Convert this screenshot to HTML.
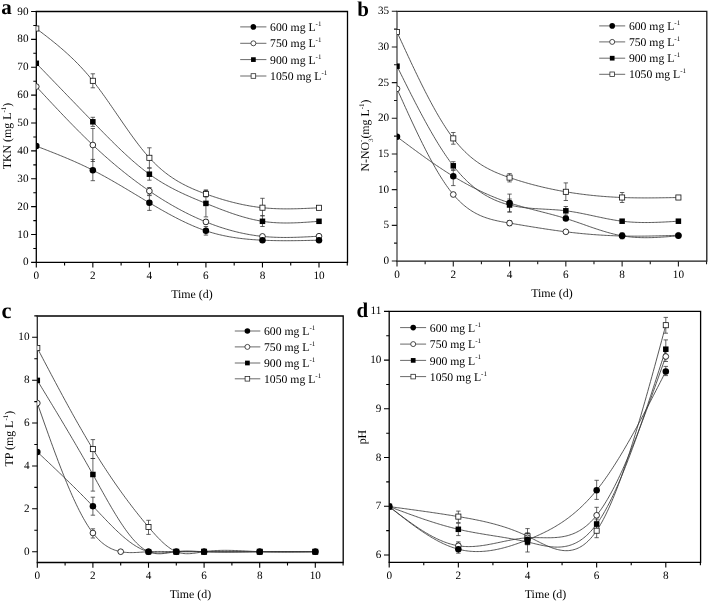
<!DOCTYPE html>
<html><head><meta charset="utf-8"><title>Figure</title>
<style>
html,body{margin:0;padding:0;background:#fff;}
body{width:709px;height:602px;overflow:hidden;}
svg{display:block;}
svg text{font-family:"Liberation Serif","Times New Roman",serif;fill:#000;text-rendering:geometricPrecision;}
</style></head>
<body>
<svg width="709" height="602" viewBox="0 0 709 602">
<rect width="709" height="602" fill="#fff"/>
<path d="M35.65 11.5H348.15M347.5 11.5V262.4M35.65 262.4H348.15" stroke="#000" stroke-width="1.3" fill="none"/>
<path d="M36.3 11.5V262.4" stroke="#000" stroke-width="1.3" fill="none"/>
<path d="M31.1 262.4H36.3M31.1 234.52H36.3M31.1 206.64H36.3M31.1 178.77H36.3M31.1 150.89H36.3M31.1 123.01H36.3M31.1 95.13H36.3M31.1 67.26H36.3M31.1 39.38H36.3M31.1 11.5H36.3M33.3 248.46H36.3M33.3 220.58H36.3M33.3 192.71H36.3M33.3 164.83H36.3M33.3 136.95H36.3M33.3 109.07H36.3M33.3 81.19H36.3M33.3 53.32H36.3M33.3 25.44H36.3M36.3 262.4V267.6M92.84 262.4V267.6M149.38 262.4V267.6M205.92 262.4V267.6M262.46 262.4V267.6M319 262.4V267.6M64.57 262.4V265.4M121.11 262.4V265.4M177.65 262.4V265.4M234.19 262.4V265.4M290.73 262.4V265.4M347.27 262.4V265.4" stroke="#000" stroke-width="1.1" fill="none"/>
<text x="28.5" y="265.4" text-anchor="end" font-size="11.2">0</text>
<text x="28.5" y="237.52" text-anchor="end" font-size="11.2">10</text>
<text x="28.5" y="209.64" text-anchor="end" font-size="11.2">20</text>
<text x="28.5" y="181.77" text-anchor="end" font-size="11.2">30</text>
<text x="28.5" y="153.89" text-anchor="end" font-size="11.2">40</text>
<text x="28.5" y="126.01" text-anchor="end" font-size="11.2">50</text>
<text x="28.5" y="98.13" text-anchor="end" font-size="11.2">60</text>
<text x="28.5" y="70.26" text-anchor="end" font-size="11.2">70</text>
<text x="28.5" y="42.38" text-anchor="end" font-size="11.2">80</text>
<text x="28.5" y="14.5" text-anchor="end" font-size="11.2">90</text>
<text x="36.3" y="279" text-anchor="middle" font-size="11.2">0</text>
<text x="92.84" y="279" text-anchor="middle" font-size="11.2">2</text>
<text x="149.38" y="279" text-anchor="middle" font-size="11.2">4</text>
<text x="205.92" y="279" text-anchor="middle" font-size="11.2">6</text>
<text x="262.46" y="279" text-anchor="middle" font-size="11.2">8</text>
<text x="319" y="279" text-anchor="middle" font-size="11.2">10</text>
<clipPath id="ca"><rect x="36.3" y="-8.5" width="316.2" height="270.9"/></clipPath>
<g clip-path="url(#ca)">
<path d="M36.3 28.5 L37.72 29.58 L39.14 30.67 L40.56 31.75 L41.98 32.84 L43.4 33.94 L44.82 35.03 L46.24 36.13 L47.66 37.24 L49.09 38.36 L50.51 39.48 L51.93 40.61 L53.35 41.75 L54.77 42.9 L56.19 44.07 L57.61 45.24 L59.03 46.43 L60.45 47.63 L61.87 48.85 L63.29 50.08 L64.71 51.33 L66.13 52.6 L67.55 53.89 L68.97 55.19 L70.39 56.51 L71.82 57.86 L73.24 59.23 L74.66 60.62 L76.08 62.03 L77.5 63.47 L78.92 64.93 L80.34 66.42 L81.76 67.94 L83.18 69.49 L84.6 71.06 L86.02 72.66 L87.44 74.3 L88.86 75.96 L90.28 77.66 L91.7 79.39 L93.12 81.16 L94.54 82.95 L95.97 84.79 L97.39 86.65 L98.81 88.54 L100.23 90.46 L101.65 92.4 L103.07 94.36 L104.49 96.34 L105.91 98.34 L107.33 100.36 L108.75 102.39 L110.17 104.44 L111.59 106.49 L113.01 108.55 L114.43 110.62 L115.85 112.7 L117.27 114.77 L118.69 116.84 L120.12 118.92 L121.54 120.99 L122.96 123.05 L124.38 125.1 L125.8 127.15 L127.22 129.18 L128.64 131.2 L130.06 133.2 L131.48 135.19 L132.9 137.15 L134.32 139.09 L135.74 141.01 L137.16 142.9 L138.58 144.77 L140 146.6 L141.42 148.4 L142.85 150.17 L144.27 151.9 L145.69 153.59 L147.11 155.25 L148.53 156.86 L149.95 158.42 L151.37 159.94 L152.79 161.42 L154.21 162.85 L155.63 164.24 L157.05 165.59 L158.47 166.9 L159.89 168.17 L161.31 169.4 L162.73 170.6 L164.15 171.75 L165.57 172.88 L167 173.96 L168.42 175.02 L169.84 176.04 L171.26 177.03 L172.68 177.99 L174.1 178.92 L175.52 179.82 L176.94 180.69 L178.36 181.54 L179.78 182.36 L181.2 183.15 L182.62 183.92 L184.04 184.67 L185.46 185.4 L186.88 186.1 L188.3 186.79 L189.73 187.45 L191.15 188.1 L192.57 188.73 L193.99 189.35 L195.41 189.95 L196.83 190.53 L198.25 191.1 L199.67 191.66 L201.09 192.21 L202.51 192.75 L203.93 193.27 L205.35 193.79 L206.77 194.31 L208.19 194.81 L209.61 195.31 L211.03 195.8 L212.45 196.28 L213.88 196.76 L215.3 197.22 L216.72 197.68 L218.14 198.13 L219.56 198.58 L220.98 199.01 L222.4 199.44 L223.82 199.86 L225.24 200.27 L226.66 200.67 L228.08 201.06 L229.5 201.45 L230.92 201.83 L232.34 202.19 L233.76 202.55 L235.18 202.9 L236.61 203.24 L238.03 203.57 L239.45 203.89 L240.87 204.2 L242.29 204.5 L243.71 204.8 L245.13 205.08 L246.55 205.35 L247.97 205.61 L249.39 205.87 L250.81 206.11 L252.23 206.34 L253.65 206.56 L255.07 206.77 L256.49 206.97 L257.91 207.16 L259.33 207.34 L260.76 207.51 L262.18 207.67 L263.6 207.82 L265.02 207.95 L266.44 208.08 L267.86 208.19 L269.28 208.3 L270.7 208.39 L272.12 208.48 L273.54 208.55 L274.96 208.62 L276.38 208.68 L277.8 208.73 L279.22 208.77 L280.64 208.8 L282.06 208.83 L283.48 208.85 L284.91 208.86 L286.33 208.87 L287.75 208.87 L289.17 208.86 L290.59 208.85 L292.01 208.83 L293.43 208.81 L294.85 208.78 L296.27 208.75 L297.69 208.71 L299.11 208.67 L300.53 208.62 L301.95 208.57 L303.37 208.52 L304.79 208.46 L306.21 208.41 L307.64 208.34 L309.06 208.28 L310.48 208.22 L311.9 208.15 L313.32 208.08 L314.74 208.01 L316.16 207.94 L317.58 207.87 L319 207.8" fill="none" stroke="#3a3a3a" stroke-width="0.85"/>
<path d="M36.3 86.6 L37.72 88.13 L39.14 89.66 L40.56 91.19 L41.98 92.72 L43.4 94.24 L44.82 95.77 L46.24 97.29 L47.66 98.82 L49.09 100.34 L50.51 101.86 L51.93 103.37 L53.35 104.89 L54.77 106.4 L56.19 107.91 L57.61 109.41 L59.03 110.91 L60.45 112.41 L61.87 113.91 L63.29 115.39 L64.71 116.88 L66.13 118.36 L67.55 119.83 L68.97 121.3 L70.39 122.77 L71.82 124.23 L73.24 125.68 L74.66 127.13 L76.08 128.57 L77.5 130 L78.92 131.43 L80.34 132.85 L81.76 134.26 L83.18 135.67 L84.6 137.06 L86.02 138.45 L87.44 139.83 L88.86 141.2 L90.28 142.57 L91.7 143.92 L93.12 145.27 L94.54 146.6 L95.97 147.93 L97.39 149.25 L98.81 150.56 L100.23 151.85 L101.65 153.14 L103.07 154.42 L104.49 155.69 L105.91 156.95 L107.33 158.21 L108.75 159.45 L110.17 160.68 L111.59 161.9 L113.01 163.12 L114.43 164.32 L115.85 165.52 L117.27 166.7 L118.69 167.88 L120.12 169.05 L121.54 170.2 L122.96 171.35 L124.38 172.49 L125.8 173.62 L127.22 174.74 L128.64 175.85 L130.06 176.95 L131.48 178.04 L132.9 179.13 L134.32 180.2 L135.74 181.26 L137.16 182.32 L138.58 183.36 L140 184.4 L141.42 185.43 L142.85 186.44 L144.27 187.45 L145.69 188.45 L147.11 189.44 L148.53 190.42 L149.95 191.39 L151.37 192.35 L152.79 193.3 L154.21 194.24 L155.63 195.17 L157.05 196.1 L158.47 197.01 L159.89 197.91 L161.31 198.81 L162.73 199.69 L164.15 200.57 L165.57 201.44 L167 202.29 L168.42 203.14 L169.84 203.97 L171.26 204.8 L172.68 205.62 L174.1 206.43 L175.52 207.22 L176.94 208.01 L178.36 208.79 L179.78 209.56 L181.2 210.32 L182.62 211.06 L184.04 211.8 L185.46 212.53 L186.88 213.25 L188.3 213.96 L189.73 214.66 L191.15 215.34 L192.57 216.02 L193.99 216.69 L195.41 217.35 L196.83 218 L198.25 218.63 L199.67 219.26 L201.09 219.88 L202.51 220.49 L203.93 221.08 L205.35 221.67 L206.77 222.24 L208.19 222.81 L209.61 223.36 L211.03 223.91 L212.45 224.44 L213.88 224.97 L215.3 225.48 L216.72 225.98 L218.14 226.48 L219.56 226.96 L220.98 227.43 L222.4 227.89 L223.82 228.34 L225.24 228.78 L226.66 229.21 L228.08 229.62 L229.5 230.03 L230.92 230.43 L232.34 230.81 L233.76 231.19 L235.18 231.55 L236.61 231.9 L238.03 232.25 L239.45 232.58 L240.87 232.9 L242.29 233.21 L243.71 233.5 L245.13 233.79 L246.55 234.07 L247.97 234.33 L249.39 234.59 L250.81 234.83 L252.23 235.06 L253.65 235.28 L255.07 235.49 L256.49 235.69 L257.91 235.88 L259.33 236.05 L260.76 236.22 L262.18 236.37 L263.6 236.51 L265.02 236.64 L266.44 236.76 L267.86 236.87 L269.28 236.97 L270.7 237.06 L272.12 237.14 L273.54 237.21 L274.96 237.27 L276.38 237.32 L277.8 237.37 L279.22 237.4 L280.64 237.43 L282.06 237.45 L283.48 237.46 L284.91 237.47 L286.33 237.47 L287.75 237.46 L289.17 237.44 L290.59 237.42 L292.01 237.4 L293.43 237.37 L294.85 237.33 L296.27 237.29 L297.69 237.24 L299.11 237.19 L300.53 237.14 L301.95 237.08 L303.37 237.02 L304.79 236.95 L306.21 236.89 L307.64 236.82 L309.06 236.75 L310.48 236.67 L311.9 236.59 L313.32 236.52 L314.74 236.44 L316.16 236.36 L317.58 236.28 L319 236.2" fill="none" stroke="#3a3a3a" stroke-width="0.85"/>
<path d="M36.3 63.3 L37.72 64.77 L39.14 66.24 L40.56 67.72 L41.98 69.19 L43.4 70.66 L44.82 72.13 L46.24 73.61 L47.66 75.08 L49.09 76.55 L50.51 78.02 L51.93 79.49 L53.35 80.97 L54.77 82.44 L56.19 83.91 L57.61 85.38 L59.03 86.85 L60.45 88.32 L61.87 89.79 L63.29 91.26 L64.71 92.73 L66.13 94.2 L67.55 95.68 L68.97 97.15 L70.39 98.61 L71.82 100.08 L73.24 101.55 L74.66 103.02 L76.08 104.49 L77.5 105.96 L78.92 107.43 L80.34 108.9 L81.76 110.36 L83.18 111.83 L84.6 113.3 L86.02 114.76 L87.44 116.23 L88.86 117.7 L90.28 119.16 L91.7 120.63 L93.12 122.09 L94.54 123.56 L95.97 125.02 L97.39 126.48 L98.81 127.94 L100.23 129.4 L101.65 130.85 L103.07 132.3 L104.49 133.75 L105.91 135.19 L107.33 136.63 L108.75 138.06 L110.17 139.48 L111.59 140.9 L113.01 142.31 L114.43 143.71 L115.85 145.1 L117.27 146.49 L118.69 147.86 L120.12 149.23 L121.54 150.58 L122.96 151.92 L124.38 153.25 L125.8 154.57 L127.22 155.88 L128.64 157.17 L130.06 158.45 L131.48 159.72 L132.9 160.97 L134.32 162.2 L135.74 163.42 L137.16 164.62 L138.58 165.81 L140 166.97 L141.42 168.12 L142.85 169.25 L144.27 170.36 L145.69 171.46 L147.11 172.53 L148.53 173.58 L149.95 174.61 L151.37 175.62 L152.79 176.61 L154.21 177.57 L155.63 178.52 L157.05 179.45 L158.47 180.36 L159.89 181.25 L161.31 182.12 L162.73 182.98 L164.15 183.82 L165.57 184.64 L167 185.45 L168.42 186.24 L169.84 187.02 L171.26 187.78 L172.68 188.53 L174.1 189.26 L175.52 189.99 L176.94 190.7 L178.36 191.4 L179.78 192.09 L181.2 192.77 L182.62 193.43 L184.04 194.09 L185.46 194.74 L186.88 195.38 L188.3 196.01 L189.73 196.64 L191.15 197.26 L192.57 197.87 L193.99 198.48 L195.41 199.08 L196.83 199.67 L198.25 200.26 L199.67 200.85 L201.09 201.43 L202.51 202.01 L203.93 202.59 L205.35 203.17 L206.77 203.75 L208.19 204.32 L209.61 204.89 L211.03 205.46 L212.45 206.03 L213.88 206.59 L215.3 207.15 L216.72 207.71 L218.14 208.26 L219.56 208.81 L220.98 209.36 L222.4 209.9 L223.82 210.43 L225.24 210.96 L226.66 211.48 L228.08 211.99 L229.5 212.5 L230.92 213 L232.34 213.49 L233.76 213.97 L235.18 214.44 L236.61 214.91 L238.03 215.36 L239.45 215.81 L240.87 216.24 L242.29 216.67 L243.71 217.08 L245.13 217.48 L246.55 217.87 L247.97 218.25 L249.39 218.61 L250.81 218.96 L252.23 219.3 L253.65 219.62 L255.07 219.93 L256.49 220.23 L257.91 220.51 L259.33 220.77 L260.76 221.02 L262.18 221.26 L263.6 221.47 L265.02 221.67 L266.44 221.86 L267.86 222.02 L269.28 222.18 L270.7 222.32 L272.12 222.44 L273.54 222.55 L274.96 222.65 L276.38 222.73 L277.8 222.8 L279.22 222.86 L280.64 222.91 L282.06 222.95 L283.48 222.97 L284.91 222.99 L286.33 222.99 L287.75 222.99 L289.17 222.98 L290.59 222.95 L292.01 222.92 L293.43 222.88 L294.85 222.84 L296.27 222.78 L297.69 222.72 L299.11 222.66 L300.53 222.58 L301.95 222.51 L303.37 222.42 L304.79 222.34 L306.21 222.24 L307.64 222.15 L309.06 222.05 L310.48 221.95 L311.9 221.84 L313.32 221.74 L314.74 221.63 L316.16 221.52 L317.58 221.41 L319 221.3" fill="none" stroke="#3a3a3a" stroke-width="0.85"/>
<path d="M36.3 146.1 L37.72 146.65 L39.14 147.2 L40.56 147.74 L41.98 148.29 L43.4 148.84 L44.82 149.39 L46.24 149.95 L47.66 150.5 L49.09 151.06 L50.51 151.61 L51.93 152.17 L53.35 152.74 L54.77 153.3 L56.19 153.87 L57.61 154.44 L59.03 155.01 L60.45 155.59 L61.87 156.17 L63.29 156.76 L64.71 157.35 L66.13 157.94 L67.55 158.54 L68.97 159.14 L70.39 159.75 L71.82 160.36 L73.24 160.98 L74.66 161.61 L76.08 162.24 L77.5 162.88 L78.92 163.52 L80.34 164.17 L81.76 164.82 L83.18 165.49 L84.6 166.16 L86.02 166.84 L87.44 167.52 L88.86 168.21 L90.28 168.92 L91.7 169.63 L93.12 170.34 L94.54 171.07 L95.97 171.81 L97.39 172.55 L98.81 173.3 L100.23 174.06 L101.65 174.83 L103.07 175.6 L104.49 176.38 L105.91 177.16 L107.33 177.96 L108.75 178.75 L110.17 179.56 L111.59 180.37 L113.01 181.18 L114.43 182 L115.85 182.82 L117.27 183.65 L118.69 184.48 L120.12 185.31 L121.54 186.15 L122.96 186.99 L124.38 187.83 L125.8 188.68 L127.22 189.52 L128.64 190.37 L130.06 191.22 L131.48 192.08 L132.9 192.93 L134.32 193.78 L135.74 194.64 L137.16 195.49 L138.58 196.34 L140 197.2 L141.42 198.05 L142.85 198.9 L144.27 199.75 L145.69 200.6 L147.11 201.45 L148.53 202.29 L149.95 203.14 L151.37 203.98 L152.79 204.81 L154.21 205.65 L155.63 206.48 L157.05 207.3 L158.47 208.12 L159.89 208.94 L161.31 209.75 L162.73 210.56 L164.15 211.36 L165.57 212.15 L167 212.94 L168.42 213.72 L169.84 214.5 L171.26 215.26 L172.68 216.02 L174.1 216.77 L175.52 217.52 L176.94 218.25 L178.36 218.98 L179.78 219.69 L181.2 220.4 L182.62 221.09 L184.04 221.78 L185.46 222.46 L186.88 223.12 L188.3 223.77 L189.73 224.41 L191.15 225.04 L192.57 225.66 L193.99 226.27 L195.41 226.86 L196.83 227.44 L198.25 228 L199.67 228.55 L201.09 229.09 L202.51 229.61 L203.93 230.12 L205.35 230.61 L206.77 231.08 L208.19 231.54 L209.61 231.99 L211.03 232.42 L212.45 232.84 L213.88 233.24 L215.3 233.62 L216.72 234 L218.14 234.36 L219.56 234.7 L220.98 235.03 L222.4 235.35 L223.82 235.66 L225.24 235.96 L226.66 236.24 L228.08 236.51 L229.5 236.77 L230.92 237.02 L232.34 237.26 L233.76 237.48 L235.18 237.7 L236.61 237.9 L238.03 238.1 L239.45 238.29 L240.87 238.47 L242.29 238.63 L243.71 238.79 L245.13 238.94 L246.55 239.09 L247.97 239.22 L249.39 239.35 L250.81 239.47 L252.23 239.58 L253.65 239.68 L255.07 239.78 L256.49 239.88 L257.91 239.96 L259.33 240.04 L260.76 240.12 L262.18 240.19 L263.6 240.25 L265.02 240.31 L266.44 240.37 L267.86 240.42 L269.28 240.46 L270.7 240.5 L272.12 240.54 L273.54 240.57 L274.96 240.6 L276.38 240.63 L277.8 240.65 L279.22 240.67 L280.64 240.68 L282.06 240.69 L283.48 240.7 L284.91 240.7 L286.33 240.71 L287.75 240.7 L289.17 240.7 L290.59 240.69 L292.01 240.68 L293.43 240.67 L294.85 240.66 L296.27 240.64 L297.69 240.62 L299.11 240.6 L300.53 240.58 L301.95 240.56 L303.37 240.54 L304.79 240.51 L306.21 240.48 L307.64 240.45 L309.06 240.42 L310.48 240.39 L311.9 240.36 L313.32 240.33 L314.74 240.3 L316.16 240.27 L317.58 240.23 L319 240.2" fill="none" stroke="#3a3a3a" stroke-width="0.85"/>
<path d="M92.84 73.8V87.8M90.64 73.8H95.04M90.64 87.8H95.04" stroke="#333" stroke-width="0.75" fill="none"/>
<path d="M149.38 147.8V167.8M147.18 147.8H151.58M147.18 167.8H151.58" stroke="#333" stroke-width="0.75" fill="none"/>
<path d="M205.92 190.5V197M203.72 190.5H208.12M203.72 197H208.12" stroke="#333" stroke-width="0.75" fill="none"/>
<path d="M262.46 198.3V215.7M260.26 198.3H264.66M260.26 215.7H264.66" stroke="#333" stroke-width="0.75" fill="none"/>
<path d="M92.84 128.5V161.5M90.64 128.5H95.04M90.64 161.5H95.04" stroke="#333" stroke-width="0.75" fill="none"/>
<path d="M149.38 187.5V195M147.18 187.5H151.58M147.18 195H151.58" stroke="#333" stroke-width="0.75" fill="none"/>
<path d="M205.92 219.4V224.4M203.72 219.4H208.12M203.72 224.4H208.12" stroke="#333" stroke-width="0.75" fill="none"/>
<path d="M92.84 117.3V126.4M90.64 117.3H95.04M90.64 126.4H95.04" stroke="#333" stroke-width="0.75" fill="none"/>
<path d="M149.38 168.2V180.2M147.18 168.2H151.58M147.18 180.2H151.58" stroke="#333" stroke-width="0.75" fill="none"/>
<path d="M205.92 189.9V216.9M203.72 189.9H208.12M203.72 216.9H208.12" stroke="#333" stroke-width="0.75" fill="none"/>
<path d="M262.46 215.8V226.5M260.26 215.8H264.66M260.26 226.5H264.66" stroke="#333" stroke-width="0.75" fill="none"/>
<path d="M92.84 159.4V180.7M90.64 159.4H95.04M90.64 180.7H95.04" stroke="#333" stroke-width="0.75" fill="none"/>
<path d="M149.38 195.6V210.4M147.18 195.6H151.58M147.18 210.4H151.58" stroke="#333" stroke-width="0.75" fill="none"/>
<path d="M205.92 226.5V235.1M203.72 226.5H208.12M203.72 235.1H208.12" stroke="#333" stroke-width="0.75" fill="none"/>
<path d="M262.46 239.2V241.2M260.26 239.2H264.66M260.26 241.2H264.66" stroke="#333" stroke-width="0.75" fill="none"/>
<rect x="33.75" y="25.95" width="5.1" height="5.1" fill="#fff" stroke="#111" stroke-width="0.8"/>
<rect x="90.29" y="78.25" width="5.1" height="5.1" fill="#fff" stroke="#111" stroke-width="0.8"/>
<rect x="146.83" y="155.25" width="5.1" height="5.1" fill="#fff" stroke="#111" stroke-width="0.8"/>
<rect x="203.37" y="191.45" width="5.1" height="5.1" fill="#fff" stroke="#111" stroke-width="0.8"/>
<rect x="259.91" y="205.15" width="5.1" height="5.1" fill="#fff" stroke="#111" stroke-width="0.8"/>
<rect x="316.45" y="205.25" width="5.1" height="5.1" fill="#fff" stroke="#111" stroke-width="0.8"/>
<circle cx="36.3" cy="86.6" r="2.85" fill="#fff" stroke="#111" stroke-width="0.85"/>
<circle cx="92.84" cy="145" r="2.85" fill="#fff" stroke="#111" stroke-width="0.85"/>
<circle cx="149.38" cy="191" r="2.85" fill="#fff" stroke="#111" stroke-width="0.85"/>
<circle cx="205.92" cy="221.9" r="2.85" fill="#fff" stroke="#111" stroke-width="0.85"/>
<circle cx="262.46" cy="236.4" r="2.85" fill="#fff" stroke="#111" stroke-width="0.85"/>
<circle cx="319" cy="236.2" r="2.85" fill="#fff" stroke="#111" stroke-width="0.85"/>
<rect x="33.55" y="60.55" width="5.5" height="5.5" fill="#000"/>
<rect x="90.09" y="119.05" width="5.5" height="5.5" fill="#000"/>
<rect x="146.63" y="171.45" width="5.5" height="5.5" fill="#000"/>
<rect x="203.17" y="200.65" width="5.5" height="5.5" fill="#000"/>
<rect x="259.71" y="218.55" width="5.5" height="5.5" fill="#000"/>
<rect x="316.25" y="218.55" width="5.5" height="5.5" fill="#000"/>
<circle cx="36.3" cy="146.1" r="3.25" fill="#000"/>
<circle cx="92.84" cy="170.2" r="3.25" fill="#000"/>
<circle cx="149.38" cy="202.8" r="3.25" fill="#000"/>
<circle cx="205.92" cy="230.8" r="3.25" fill="#000"/>
<circle cx="262.46" cy="240.2" r="3.25" fill="#000"/>
<circle cx="319" cy="240.2" r="3.25" fill="#000"/>
</g>
<path d="M240.2 26.9H266.4" stroke="#444" stroke-width="0.8"/>
<circle cx="253.4" cy="26.9" r="2.8" fill="#000"/>
<text x="270.1" y="31" font-size="11.7">600 mg L<tspan font-size="7" dy="-5.2">-1</tspan></text>
<path d="M240.2 43.3H266.4" stroke="#444" stroke-width="0.8"/>
<circle cx="253.4" cy="43.3" r="2.5" fill="#fff" stroke="#222" stroke-width="0.8"/>
<text x="270.1" y="47.4" font-size="11.7">750 mg L<tspan font-size="7" dy="-5.2">-1</tspan></text>
<path d="M240.2 59.6H266.4" stroke="#444" stroke-width="0.8"/>
<rect x="251.05" y="57.25" width="4.7" height="4.7" fill="#000"/>
<text x="270.1" y="63.7" font-size="11.7">900 mg L<tspan font-size="7" dy="-5.2">-1</tspan></text>
<path d="M240.2 76H266.4" stroke="#444" stroke-width="0.8"/>
<rect x="251.1" y="73.7" width="4.6" height="4.6" fill="#fff" stroke="#222" stroke-width="0.75"/>
<text x="270.1" y="80.1" font-size="11.7">1050 mg L<tspan font-size="7" dy="-5.2">-1</tspan></text>
<path d="M396.35 11.3H707.45M706.8 11.3V261.2M396.35 261.2H707.45" stroke="#1a1a1a" stroke-width="1.3" fill="none"/>
<path d="M397 11.3V261.2" stroke="#484848" stroke-width="1.3" fill="none"/>
<path d="M391.8 261H397M391.8 225.33H397M391.8 189.66H397M391.8 153.99H397M391.8 118.31H397M391.8 82.64H397M391.8 46.97H397M391.8 11.3H397M394 243.16H397M394 207.49H397M394 171.82H397M394 136.15H397M394 100.48H397M394 64.81H397M394 29.14H397M397 261.2V266.4M453.28 261.2V266.4M509.56 261.2V266.4M565.84 261.2V266.4M622.12 261.2V266.4M678.4 261.2V266.4M425.14 261.2V264.2M481.42 261.2V264.2M537.7 261.2V264.2M593.98 261.2V264.2M650.26 261.2V264.2M706.54 261.2V264.2" stroke="#1a1a1a" stroke-width="1.1" fill="none"/>
<text x="389.2" y="264" text-anchor="end" font-size="11.2">0</text>
<text x="389.2" y="228.33" text-anchor="end" font-size="11.2">5</text>
<text x="389.2" y="192.66" text-anchor="end" font-size="11.2">10</text>
<text x="389.2" y="156.99" text-anchor="end" font-size="11.2">15</text>
<text x="389.2" y="121.31" text-anchor="end" font-size="11.2">20</text>
<text x="389.2" y="85.64" text-anchor="end" font-size="11.2">25</text>
<text x="389.2" y="49.97" text-anchor="end" font-size="11.2">30</text>
<text x="389.2" y="14.3" text-anchor="end" font-size="11.2">35</text>
<text x="397" y="277.8" text-anchor="middle" font-size="11.2">0</text>
<text x="453.28" y="277.8" text-anchor="middle" font-size="11.2">2</text>
<text x="509.56" y="277.8" text-anchor="middle" font-size="11.2">4</text>
<text x="565.84" y="277.8" text-anchor="middle" font-size="11.2">6</text>
<text x="622.12" y="277.8" text-anchor="middle" font-size="11.2">8</text>
<text x="678.4" y="277.8" text-anchor="middle" font-size="11.2">10</text>
<clipPath id="cb"><rect x="397" y="-8.7" width="314.8" height="269.9"/></clipPath>
<g clip-path="url(#cb)">
<path d="M397 32 L398.41 35.08 L399.83 38.17 L401.24 41.25 L402.66 44.32 L404.07 47.39 L405.48 50.45 L406.9 53.5 L408.31 56.54 L409.73 59.57 L411.14 62.58 L412.55 65.58 L413.97 68.56 L415.38 71.52 L416.8 74.47 L418.21 77.39 L419.63 80.28 L421.04 83.16 L422.45 86 L423.87 88.82 L425.28 91.61 L426.7 94.36 L428.11 97.09 L429.52 99.78 L430.94 102.43 L432.35 105.05 L433.77 107.63 L435.18 110.17 L436.59 112.66 L438.01 115.11 L439.42 117.52 L440.84 119.88 L442.25 122.19 L443.66 124.46 L445.08 126.67 L446.49 128.83 L447.91 130.93 L449.32 132.98 L450.73 134.97 L452.15 136.9 L453.56 138.77 L454.98 140.58 L456.39 142.33 L457.81 144.02 L459.22 145.65 L460.63 147.23 L462.05 148.75 L463.46 150.21 L464.88 151.63 L466.29 153 L467.7 154.31 L469.12 155.58 L470.53 156.8 L471.95 157.98 L473.36 159.11 L474.77 160.21 L476.19 161.26 L477.6 162.27 L479.02 163.24 L480.43 164.18 L481.84 165.08 L483.26 165.94 L484.67 166.78 L486.09 167.58 L487.5 168.35 L488.91 169.1 L490.33 169.81 L491.74 170.51 L493.16 171.17 L494.57 171.82 L495.98 172.44 L497.4 173.04 L498.81 173.63 L500.23 174.2 L501.64 174.75 L503.06 175.28 L504.47 175.81 L505.88 176.32 L507.3 176.82 L508.71 177.31 L510.13 177.79 L511.54 178.27 L512.95 178.74 L514.37 179.2 L515.78 179.66 L517.2 180.11 L518.61 180.55 L520.02 180.99 L521.44 181.42 L522.85 181.84 L524.27 182.26 L525.68 182.67 L527.09 183.08 L528.51 183.47 L529.92 183.86 L531.34 184.25 L532.75 184.63 L534.16 185 L535.58 185.37 L536.99 185.73 L538.41 186.08 L539.82 186.43 L541.24 186.77 L542.65 187.11 L544.06 187.44 L545.48 187.76 L546.89 188.08 L548.31 188.39 L549.72 188.7 L551.13 189 L552.55 189.3 L553.96 189.59 L555.38 189.87 L556.79 190.15 L558.2 190.42 L559.62 190.69 L561.03 190.95 L562.45 191.21 L563.86 191.46 L565.27 191.7 L566.69 191.94 L568.1 192.18 L569.52 192.41 L570.93 192.63 L572.34 192.85 L573.76 193.07 L575.17 193.27 L576.59 193.48 L578 193.68 L579.42 193.87 L580.83 194.06 L582.24 194.24 L583.66 194.42 L585.07 194.6 L586.49 194.76 L587.9 194.93 L589.31 195.09 L590.73 195.24 L592.14 195.39 L593.56 195.54 L594.97 195.68 L596.38 195.81 L597.8 195.94 L599.21 196.07 L600.63 196.19 L602.04 196.31 L603.45 196.42 L604.87 196.53 L606.28 196.63 L607.7 196.73 L609.11 196.83 L610.52 196.92 L611.94 197 L613.35 197.09 L614.77 197.16 L616.18 197.24 L617.59 197.31 L619.01 197.37 L620.42 197.43 L621.84 197.49 L623.25 197.54 L624.67 197.59 L626.08 197.64 L627.49 197.68 L628.91 197.71 L630.32 197.75 L631.74 197.78 L633.15 197.81 L634.56 197.83 L635.98 197.85 L637.39 197.87 L638.81 197.88 L640.22 197.89 L641.63 197.9 L643.05 197.91 L644.46 197.91 L645.88 197.91 L647.29 197.91 L648.7 197.91 L650.12 197.9 L651.53 197.9 L652.95 197.89 L654.36 197.88 L655.77 197.86 L657.19 197.85 L658.6 197.83 L660.02 197.81 L661.43 197.79 L662.85 197.77 L664.26 197.75 L665.67 197.73 L667.09 197.71 L668.5 197.68 L669.92 197.66 L671.33 197.63 L672.74 197.61 L674.16 197.58 L675.57 197.55 L676.99 197.53 L678.4 197.5" fill="none" stroke="#3a3a3a" stroke-width="0.85"/>
<path d="M397 88.8 L398.41 91.94 L399.83 95.08 L401.24 98.21 L402.66 101.34 L404.07 104.46 L405.48 107.58 L406.9 110.68 L408.31 113.77 L409.73 116.84 L411.14 119.9 L412.55 122.94 L413.97 125.96 L415.38 128.95 L416.8 131.93 L418.21 134.88 L419.63 137.79 L421.04 140.69 L422.45 143.54 L423.87 146.37 L425.28 149.16 L426.7 151.92 L428.11 154.63 L429.52 157.31 L430.94 159.94 L432.35 162.53 L433.77 165.08 L435.18 167.57 L436.59 170.02 L438.01 172.41 L439.42 174.75 L440.84 177.04 L442.25 179.27 L443.66 181.44 L445.08 183.55 L446.49 185.6 L447.91 187.58 L449.32 189.5 L450.73 191.35 L452.15 193.13 L453.56 194.84 L454.98 196.47 L456.39 198.04 L457.81 199.53 L459.22 200.96 L460.63 202.32 L462.05 203.62 L463.46 204.86 L464.88 206.04 L466.29 207.16 L467.7 208.22 L469.12 209.23 L470.53 210.19 L471.95 211.1 L473.36 211.96 L474.77 212.77 L476.19 213.53 L477.6 214.26 L479.02 214.94 L480.43 215.58 L481.84 216.19 L483.26 216.75 L484.67 217.29 L486.09 217.79 L487.5 218.26 L488.91 218.71 L490.33 219.12 L491.74 219.52 L493.16 219.88 L494.57 220.23 L495.98 220.56 L497.4 220.87 L498.81 221.17 L500.23 221.45 L501.64 221.72 L503.06 221.98 L504.47 222.23 L505.88 222.48 L507.3 222.72 L508.71 222.96 L510.13 223.19 L511.54 223.43 L512.95 223.67 L514.37 223.91 L515.78 224.15 L517.2 224.38 L518.61 224.62 L520.02 224.86 L521.44 225.09 L522.85 225.33 L524.27 225.57 L525.68 225.8 L527.09 226.04 L528.51 226.27 L529.92 226.5 L531.34 226.73 L532.75 226.96 L534.16 227.19 L535.58 227.42 L536.99 227.65 L538.41 227.87 L539.82 228.09 L541.24 228.31 L542.65 228.53 L544.06 228.75 L545.48 228.97 L546.89 229.18 L548.31 229.39 L549.72 229.6 L551.13 229.81 L552.55 230.01 L553.96 230.22 L555.38 230.41 L556.79 230.61 L558.2 230.81 L559.62 231 L561.03 231.18 L562.45 231.37 L563.86 231.55 L565.27 231.73 L566.69 231.9 L568.1 232.08 L569.52 232.24 L570.93 232.41 L572.34 232.57 L573.76 232.73 L575.17 232.88 L576.59 233.04 L578 233.18 L579.42 233.33 L580.83 233.47 L582.24 233.61 L583.66 233.74 L585.07 233.87 L586.49 234 L587.9 234.12 L589.31 234.24 L590.73 234.36 L592.14 234.47 L593.56 234.58 L594.97 234.68 L596.38 234.79 L597.8 234.88 L599.21 234.98 L600.63 235.07 L602.04 235.16 L603.45 235.24 L604.87 235.32 L606.28 235.4 L607.7 235.47 L609.11 235.54 L610.52 235.6 L611.94 235.67 L613.35 235.72 L614.77 235.78 L616.18 235.83 L617.59 235.88 L619.01 235.92 L620.42 235.96 L621.84 235.99 L623.25 236.03 L624.67 236.05 L626.08 236.08 L627.49 236.1 L628.91 236.12 L630.32 236.13 L631.74 236.14 L633.15 236.15 L634.56 236.15 L635.98 236.15 L637.39 236.15 L638.81 236.15 L640.22 236.14 L641.63 236.13 L643.05 236.12 L644.46 236.11 L645.88 236.09 L647.29 236.07 L648.7 236.05 L650.12 236.03 L651.53 236 L652.95 235.98 L654.36 235.95 L655.77 235.92 L657.19 235.89 L658.6 235.86 L660.02 235.82 L661.43 235.79 L662.85 235.75 L664.26 235.71 L665.67 235.67 L667.09 235.63 L668.5 235.59 L669.92 235.55 L671.33 235.51 L672.74 235.47 L674.16 235.43 L675.57 235.39 L676.99 235.34 L678.4 235.3" fill="none" stroke="#3a3a3a" stroke-width="0.85"/>
<path d="M397 66.2 L398.41 69.05 L399.83 71.89 L401.24 74.73 L402.66 77.57 L404.07 80.4 L405.48 83.23 L406.9 86.04 L408.31 88.85 L409.73 91.65 L411.14 94.44 L412.55 97.21 L413.97 99.97 L415.38 102.72 L416.8 105.44 L418.21 108.15 L419.63 110.84 L421.04 113.51 L422.45 116.16 L423.87 118.78 L425.28 121.38 L426.7 123.95 L428.11 126.49 L429.52 129.01 L430.94 131.5 L432.35 133.95 L433.77 136.38 L435.18 138.77 L436.59 141.12 L438.01 143.44 L439.42 145.72 L440.84 147.96 L442.25 150.16 L443.66 152.32 L445.08 154.44 L446.49 156.51 L447.91 158.54 L449.32 160.52 L450.73 162.45 L452.15 164.33 L453.56 166.16 L454.98 167.94 L456.39 169.67 L457.81 171.35 L459.22 172.98 L460.63 174.57 L462.05 176.1 L463.46 177.59 L464.88 179.03 L466.29 180.42 L467.7 181.77 L469.12 183.08 L470.53 184.34 L471.95 185.56 L473.36 186.74 L474.77 187.88 L476.19 188.97 L477.6 190.03 L479.02 191.05 L480.43 192.03 L481.84 192.97 L483.26 193.88 L484.67 194.75 L486.09 195.59 L487.5 196.39 L488.91 197.16 L490.33 197.89 L491.74 198.59 L493.16 199.26 L494.57 199.9 L495.98 200.51 L497.4 201.1 L498.81 201.65 L500.23 202.17 L501.64 202.67 L503.06 203.14 L504.47 203.59 L505.88 204.01 L507.3 204.41 L508.71 204.79 L510.13 205.14 L511.54 205.47 L512.95 205.78 L514.37 206.07 L515.78 206.34 L517.2 206.59 L518.61 206.83 L520.02 207.05 L521.44 207.25 L522.85 207.44 L524.27 207.62 L525.68 207.78 L527.09 207.93 L528.51 208.07 L529.92 208.2 L531.34 208.32 L532.75 208.44 L534.16 208.54 L535.58 208.64 L536.99 208.73 L538.41 208.82 L539.82 208.9 L541.24 208.98 L542.65 209.06 L544.06 209.14 L545.48 209.22 L546.89 209.29 L548.31 209.37 L549.72 209.45 L551.13 209.53 L552.55 209.62 L553.96 209.71 L555.38 209.81 L556.79 209.92 L558.2 210.03 L559.62 210.15 L561.03 210.28 L562.45 210.42 L563.86 210.57 L565.27 210.73 L566.69 210.91 L568.1 211.1 L569.52 211.3 L570.93 211.51 L572.34 211.73 L573.76 211.96 L575.17 212.2 L576.59 212.45 L578 212.71 L579.42 212.98 L580.83 213.25 L582.24 213.53 L583.66 213.82 L585.07 214.11 L586.49 214.4 L587.9 214.7 L589.31 215 L590.73 215.3 L592.14 215.6 L593.56 215.91 L594.97 216.21 L596.38 216.52 L597.8 216.82 L599.21 217.12 L600.63 217.42 L602.04 217.72 L603.45 218.01 L604.87 218.3 L606.28 218.58 L607.7 218.86 L609.11 219.13 L610.52 219.39 L611.94 219.65 L613.35 219.89 L614.77 220.13 L616.18 220.36 L617.59 220.58 L619.01 220.79 L620.42 220.98 L621.84 221.16 L623.25 221.34 L624.67 221.49 L626.08 221.64 L627.49 221.77 L628.91 221.89 L630.32 222 L631.74 222.1 L633.15 222.19 L634.56 222.26 L635.98 222.33 L637.39 222.38 L638.81 222.43 L640.22 222.47 L641.63 222.5 L643.05 222.52 L644.46 222.53 L645.88 222.53 L647.29 222.53 L648.7 222.52 L650.12 222.5 L651.53 222.48 L652.95 222.45 L654.36 222.41 L655.77 222.37 L657.19 222.32 L658.6 222.27 L660.02 222.21 L661.43 222.15 L662.85 222.09 L664.26 222.02 L665.67 221.94 L667.09 221.87 L668.5 221.79 L669.92 221.71 L671.33 221.63 L672.74 221.54 L674.16 221.46 L675.57 221.37 L676.99 221.29 L678.4 221.2" fill="none" stroke="#3a3a3a" stroke-width="0.85"/>
<path d="M397 136.8 L398.41 137.86 L399.83 138.91 L401.24 139.97 L402.66 141.02 L404.07 142.08 L405.48 143.13 L406.9 144.18 L408.31 145.23 L409.73 146.28 L411.14 147.33 L412.55 148.37 L413.97 149.41 L415.38 150.45 L416.8 151.48 L418.21 152.51 L419.63 153.54 L421.04 154.56 L422.45 155.58 L423.87 156.6 L425.28 157.61 L426.7 158.61 L428.11 159.61 L429.52 160.61 L430.94 161.6 L432.35 162.58 L433.77 163.56 L435.18 164.53 L436.59 165.5 L438.01 166.45 L439.42 167.4 L440.84 168.35 L442.25 169.28 L443.66 170.21 L445.08 171.13 L446.49 172.04 L447.91 172.95 L449.32 173.84 L450.73 174.73 L452.15 175.61 L453.56 176.47 L454.98 177.33 L456.39 178.18 L457.81 179.02 L459.22 179.84 L460.63 180.66 L462.05 181.47 L463.46 182.27 L464.88 183.06 L466.29 183.84 L467.7 184.61 L469.12 185.37 L470.53 186.12 L471.95 186.86 L473.36 187.59 L474.77 188.31 L476.19 189.02 L477.6 189.72 L479.02 190.41 L480.43 191.1 L481.84 191.77 L483.26 192.43 L484.67 193.08 L486.09 193.72 L487.5 194.35 L488.91 194.97 L490.33 195.59 L491.74 196.19 L493.16 196.78 L494.57 197.36 L495.98 197.93 L497.4 198.49 L498.81 199.04 L500.23 199.58 L501.64 200.11 L503.06 200.64 L504.47 201.15 L505.88 201.65 L507.3 202.14 L508.71 202.62 L510.13 203.09 L511.54 203.55 L512.95 204 L514.37 204.44 L515.78 204.87 L517.2 205.3 L518.61 205.71 L520.02 206.12 L521.44 206.53 L522.85 206.92 L524.27 207.31 L525.68 207.7 L527.09 208.08 L528.51 208.46 L529.92 208.83 L531.34 209.2 L532.75 209.57 L534.16 209.93 L535.58 210.3 L536.99 210.66 L538.41 211.02 L539.82 211.38 L541.24 211.74 L542.65 212.1 L544.06 212.46 L545.48 212.82 L546.89 213.19 L548.31 213.56 L549.72 213.93 L551.13 214.3 L552.55 214.68 L553.96 215.06 L555.38 215.44 L556.79 215.84 L558.2 216.23 L559.62 216.64 L561.03 217.05 L562.45 217.47 L563.86 217.89 L565.27 218.32 L566.69 218.77 L568.1 219.22 L569.52 219.67 L570.93 220.14 L572.34 220.61 L573.76 221.09 L575.17 221.57 L576.59 222.06 L578 222.55 L579.42 223.04 L580.83 223.53 L582.24 224.03 L583.66 224.53 L585.07 225.03 L586.49 225.52 L587.9 226.02 L589.31 226.51 L590.73 227 L592.14 227.49 L593.56 227.97 L594.97 228.45 L596.38 228.93 L597.8 229.39 L599.21 229.86 L600.63 230.31 L602.04 230.75 L603.45 231.19 L604.87 231.62 L606.28 232.03 L607.7 232.44 L609.11 232.83 L610.52 233.22 L611.94 233.59 L613.35 233.94 L614.77 234.28 L616.18 234.61 L617.59 234.92 L619.01 235.21 L620.42 235.49 L621.84 235.75 L623.25 235.99 L624.67 236.21 L626.08 236.42 L627.49 236.61 L628.91 236.78 L630.32 236.93 L631.74 237.07 L633.15 237.19 L634.56 237.3 L635.98 237.4 L637.39 237.48 L638.81 237.54 L640.22 237.6 L641.63 237.64 L643.05 237.67 L644.46 237.68 L645.88 237.69 L647.29 237.68 L648.7 237.67 L650.12 237.64 L651.53 237.61 L652.95 237.57 L654.36 237.51 L655.77 237.45 L657.19 237.39 L658.6 237.31 L660.02 237.23 L661.43 237.14 L662.85 237.05 L664.26 236.95 L665.67 236.85 L667.09 236.75 L668.5 236.64 L669.92 236.52 L671.33 236.41 L672.74 236.29 L674.16 236.17 L675.57 236.05 L676.99 235.92 L678.4 235.8" fill="none" stroke="#3a3a3a" stroke-width="0.85"/>
<path d="M453.28 132.5V144.2M451.08 132.5H455.48M451.08 144.2H455.48" stroke="#333" stroke-width="0.75" fill="none"/>
<path d="M509.56 173.6V181.9M507.36 173.6H511.76M507.36 181.9H511.76" stroke="#333" stroke-width="0.75" fill="none"/>
<path d="M565.84 182.9V200.5M563.64 182.9H568.04M563.64 200.5H568.04" stroke="#333" stroke-width="0.75" fill="none"/>
<path d="M622.12 192.5V202.5M619.92 192.5H624.32M619.92 202.5H624.32" stroke="#333" stroke-width="0.75" fill="none"/>
<path d="M509.56 220.6V225.6M507.36 220.6H511.76M507.36 225.6H511.76" stroke="#333" stroke-width="0.75" fill="none"/>
<path d="M453.28 161.7V169.9M451.08 161.7H455.48M451.08 169.9H455.48" stroke="#333" stroke-width="0.75" fill="none"/>
<path d="M509.56 199V212M507.36 199H511.76M507.36 212H511.76" stroke="#333" stroke-width="0.75" fill="none"/>
<path d="M565.84 206.5V215.1M563.64 206.5H568.04M563.64 215.1H568.04" stroke="#333" stroke-width="0.75" fill="none"/>
<path d="M453.28 170.3V185.6M451.08 170.3H455.48M451.08 185.6H455.48" stroke="#333" stroke-width="0.75" fill="none"/>
<path d="M509.56 194.1V211.9M507.36 194.1H511.76M507.36 211.9H511.76" stroke="#333" stroke-width="0.75" fill="none"/>
<path d="M622.12 232.8V238.8M619.92 232.8H624.32M619.92 238.8H624.32" stroke="#333" stroke-width="0.75" fill="none"/>
<rect x="394.45" y="29.45" width="5.1" height="5.1" fill="#fff" stroke="#111" stroke-width="0.8"/>
<rect x="450.73" y="135.85" width="5.1" height="5.1" fill="#fff" stroke="#111" stroke-width="0.8"/>
<rect x="507.01" y="175.05" width="5.1" height="5.1" fill="#fff" stroke="#111" stroke-width="0.8"/>
<rect x="563.29" y="189.25" width="5.1" height="5.1" fill="#fff" stroke="#111" stroke-width="0.8"/>
<rect x="619.57" y="194.95" width="5.1" height="5.1" fill="#fff" stroke="#111" stroke-width="0.8"/>
<rect x="675.85" y="194.95" width="5.1" height="5.1" fill="#fff" stroke="#111" stroke-width="0.8"/>
<circle cx="397" cy="88.8" r="2.85" fill="#fff" stroke="#111" stroke-width="0.85"/>
<circle cx="453.28" cy="194.5" r="2.85" fill="#fff" stroke="#111" stroke-width="0.85"/>
<circle cx="509.56" cy="223.1" r="2.85" fill="#fff" stroke="#111" stroke-width="0.85"/>
<circle cx="565.84" cy="231.8" r="2.85" fill="#fff" stroke="#111" stroke-width="0.85"/>
<circle cx="622.12" cy="236" r="2.85" fill="#fff" stroke="#111" stroke-width="0.85"/>
<circle cx="678.4" cy="235.3" r="2.85" fill="#fff" stroke="#111" stroke-width="0.85"/>
<rect x="394.25" y="63.45" width="5.5" height="5.5" fill="#000"/>
<rect x="450.53" y="163.05" width="5.5" height="5.5" fill="#000"/>
<rect x="506.81" y="202.25" width="5.5" height="5.5" fill="#000"/>
<rect x="563.09" y="208.05" width="5.5" height="5.5" fill="#000"/>
<rect x="619.37" y="218.45" width="5.5" height="5.5" fill="#000"/>
<rect x="675.65" y="218.45" width="5.5" height="5.5" fill="#000"/>
<circle cx="397" cy="136.8" r="3.25" fill="#000"/>
<circle cx="453.28" cy="176.3" r="3.25" fill="#000"/>
<circle cx="509.56" cy="202.9" r="3.25" fill="#000"/>
<circle cx="565.84" cy="218.5" r="3.25" fill="#000"/>
<circle cx="622.12" cy="235.8" r="3.25" fill="#000"/>
<circle cx="678.4" cy="235.8" r="3.25" fill="#000"/>
</g>
<path d="M599.2 25.9H625.2" stroke="#444" stroke-width="0.8"/>
<circle cx="612.2" cy="25.9" r="2.8" fill="#000"/>
<text x="628.9" y="30" font-size="11.7">600 mg L<tspan font-size="7" dy="-5.2">-1</tspan></text>
<path d="M599.2 41.9H625.2" stroke="#444" stroke-width="0.8"/>
<circle cx="612.2" cy="41.9" r="2.5" fill="#fff" stroke="#222" stroke-width="0.8"/>
<text x="628.9" y="46" font-size="11.7">750 mg L<tspan font-size="7" dy="-5.2">-1</tspan></text>
<path d="M599.2 58.2H625.2" stroke="#444" stroke-width="0.8"/>
<rect x="609.85" y="55.85" width="4.7" height="4.7" fill="#000"/>
<text x="628.9" y="62.3" font-size="11.7">900 mg L<tspan font-size="7" dy="-5.2">-1</tspan></text>
<path d="M599.2 74.3H625.2" stroke="#444" stroke-width="0.8"/>
<rect x="609.9" y="72" width="4.6" height="4.6" fill="#fff" stroke="#222" stroke-width="0.75"/>
<text x="628.9" y="78.4" font-size="11.7">1050 mg L<tspan font-size="7" dy="-5.2">-1</tspan></text>
<path d="M36.65 316H343.85M343.2 316V562.5M36.65 562.5H343.85" stroke="#000" stroke-width="1.3" fill="none"/>
<path d="M37.3 316V562.5" stroke="#2a2a2a" stroke-width="1.3" fill="none"/>
<path d="M32.1 551.7H37.3M32.1 508.82H37.3M32.1 465.94H37.3M32.1 423.06H37.3M32.1 380.18H37.3M32.1 337.3H37.3M34.3 530.26H37.3M34.3 487.38H37.3M34.3 444.5H37.3M34.3 401.62H37.3M34.3 358.74H37.3M34.3 315.86H37.3M37.3 562.5V567.7M92.9 562.5V567.7M148.5 562.5V567.7M204.1 562.5V567.7M259.7 562.5V567.7M315.3 562.5V567.7M65.1 562.5V565.5M120.7 562.5V565.5M176.3 562.5V565.5M231.9 562.5V565.5M287.5 562.5V565.5M343.1 562.5V565.5" stroke="#000" stroke-width="1.1" fill="none"/>
<text x="29.5" y="554.7" text-anchor="end" font-size="11.2">0</text>
<text x="29.5" y="511.82" text-anchor="end" font-size="11.2">2</text>
<text x="29.5" y="468.94" text-anchor="end" font-size="11.2">4</text>
<text x="29.5" y="426.06" text-anchor="end" font-size="11.2">6</text>
<text x="29.5" y="383.18" text-anchor="end" font-size="11.2">8</text>
<text x="29.5" y="340.3" text-anchor="end" font-size="11.2">10</text>
<text x="37.3" y="579.1" text-anchor="middle" font-size="11.2">0</text>
<text x="92.9" y="579.1" text-anchor="middle" font-size="11.2">2</text>
<text x="148.5" y="579.1" text-anchor="middle" font-size="11.2">4</text>
<text x="204.1" y="579.1" text-anchor="middle" font-size="11.2">6</text>
<text x="259.7" y="579.1" text-anchor="middle" font-size="11.2">8</text>
<text x="315.3" y="579.1" text-anchor="middle" font-size="11.2">10</text>
<clipPath id="cc"><rect x="37.3" y="296" width="310.9" height="266.5"/></clipPath>
<g clip-path="url(#cc)">
<path d="M37.3 348 L38.7 350.66 L40.09 353.32 L41.49 355.99 L42.89 358.65 L44.28 361.3 L45.68 363.96 L47.08 366.61 L48.48 369.26 L49.87 371.91 L51.27 374.55 L52.67 377.18 L54.06 379.82 L55.46 382.44 L56.86 385.06 L58.25 387.68 L59.65 390.28 L61.05 392.88 L62.45 395.47 L63.84 398.06 L65.24 400.63 L66.64 403.2 L68.03 405.75 L69.43 408.3 L70.83 410.83 L72.22 413.36 L73.62 415.87 L75.02 418.37 L76.42 420.86 L77.81 423.33 L79.21 425.79 L80.61 428.24 L82 430.67 L83.4 433.09 L84.8 435.49 L86.19 437.88 L87.59 440.25 L88.99 442.6 L90.39 444.94 L91.78 447.26 L93.18 449.56 L94.58 451.84 L95.97 454.11 L97.37 456.35 L98.77 458.58 L100.16 460.79 L101.56 462.98 L102.96 465.16 L104.36 467.31 L105.75 469.45 L107.15 471.57 L108.55 473.68 L109.94 475.77 L111.34 477.84 L112.74 479.89 L114.13 481.93 L115.53 483.95 L116.93 485.95 L118.33 487.93 L119.72 489.9 L121.12 491.86 L122.52 493.79 L123.91 495.72 L125.31 497.62 L126.71 499.51 L128.1 501.38 L129.5 503.24 L130.9 505.08 L132.29 506.91 L133.69 508.72 L135.09 510.52 L136.49 512.3 L137.88 514.06 L139.28 515.81 L140.68 517.55 L142.07 519.27 L143.47 520.98 L144.87 522.67 L146.26 524.35 L147.66 526.01 L149.06 527.66 L150.46 529.29 L151.85 530.9 L153.25 532.49 L154.65 534.06 L156.04 535.59 L157.44 537.08 L158.84 538.53 L160.23 539.94 L161.63 541.31 L163.03 542.62 L164.43 543.87 L165.82 545.07 L167.22 546.2 L168.62 547.26 L170.01 548.25 L171.41 549.16 L172.81 549.99 L174.2 550.74 L175.6 551.4 L177 551.97 L178.4 552.45 L179.79 552.84 L181.19 553.15 L182.59 553.39 L183.98 553.56 L185.38 553.66 L186.78 553.71 L188.17 553.7 L189.57 553.65 L190.97 553.55 L192.37 553.42 L193.76 553.26 L195.16 553.08 L196.56 552.88 L197.95 552.66 L199.35 552.44 L200.75 552.21 L202.14 551.99 L203.54 551.78 L204.94 551.58 L206.34 551.4 L207.73 551.24 L209.13 551.09 L210.53 550.96 L211.92 550.84 L213.32 550.73 L214.72 550.64 L216.11 550.57 L217.51 550.5 L218.91 550.45 L220.31 550.4 L221.7 550.37 L223.1 550.35 L224.5 550.34 L225.89 550.34 L227.29 550.35 L228.69 550.36 L230.08 550.39 L231.48 550.42 L232.88 550.45 L234.27 550.5 L235.67 550.54 L237.07 550.6 L238.47 550.66 L239.86 550.72 L241.26 550.78 L242.66 550.85 L244.05 550.92 L245.45 550.99 L246.85 551.07 L248.24 551.14 L249.64 551.21 L251.04 551.29 L252.44 551.36 L253.83 551.43 L255.23 551.5 L256.63 551.57 L258.02 551.63 L259.42 551.69 L260.82 551.74 L262.21 551.8 L263.61 551.84 L265.01 551.89 L266.41 551.93 L267.8 551.96 L269.2 551.99 L270.6 552.02 L271.99 552.05 L273.39 552.07 L274.79 552.09 L276.18 552.1 L277.58 552.11 L278.98 552.12 L280.38 552.13 L281.77 552.13 L283.17 552.14 L284.57 552.13 L285.96 552.13 L287.36 552.13 L288.76 552.12 L290.15 552.11 L291.55 552.1 L292.95 552.08 L294.35 552.07 L295.74 552.05 L297.14 552.03 L298.54 552.01 L299.93 551.99 L301.33 551.97 L302.73 551.94 L304.12 551.92 L305.52 551.89 L306.92 551.87 L308.32 551.84 L309.71 551.81 L311.11 551.78 L312.51 551.76 L313.9 551.73 L315.3 551.7" fill="none" stroke="#3a3a3a" stroke-width="0.85"/>
<path d="M37.3 403.1 L38.7 407.09 L40.09 411.07 L41.49 415.05 L42.89 419.02 L44.28 422.98 L45.68 426.92 L47.08 430.85 L48.48 434.76 L49.87 438.65 L51.27 442.51 L52.67 446.35 L54.06 450.15 L55.46 453.93 L56.86 457.66 L58.25 461.36 L59.65 465.02 L61.05 468.63 L62.45 472.2 L63.84 475.72 L65.24 479.19 L66.64 482.6 L68.03 485.95 L69.43 489.24 L70.83 492.48 L72.22 495.64 L73.62 498.74 L75.02 501.76 L76.42 504.71 L77.81 507.59 L79.21 510.38 L80.61 513.09 L82 515.72 L83.4 518.26 L84.8 520.71 L86.19 523.07 L87.59 525.33 L88.99 527.49 L90.39 529.55 L91.78 531.51 L93.18 533.36 L94.58 535.1 L95.97 536.74 L97.37 538.28 L98.77 539.71 L100.16 541.05 L101.56 542.3 L102.96 543.46 L104.36 544.53 L105.75 545.52 L107.15 546.42 L108.55 547.25 L109.94 548.01 L111.34 548.7 L112.74 549.32 L114.13 549.87 L115.53 550.36 L116.93 550.79 L118.33 551.17 L119.72 551.5 L121.12 551.78 L122.52 552.01 L123.91 552.2 L125.31 552.35 L126.71 552.46 L128.1 552.54 L129.5 552.59 L130.9 552.61 L132.29 552.6 L133.69 552.57 L135.09 552.53 L136.49 552.47 L137.88 552.39 L139.28 552.3 L140.68 552.21 L142.07 552.12 L143.47 552.02 L144.87 551.92 L146.26 551.83 L147.66 551.75 L149.06 551.67 L150.46 551.61 L151.85 551.56 L153.25 551.52 L154.65 551.49 L156.04 551.47 L157.44 551.46 L158.84 551.46 L160.23 551.46 L161.63 551.47 L163.03 551.48 L164.43 551.5 L165.82 551.52 L167.22 551.54 L168.62 551.56 L170.01 551.59 L171.41 551.62 L172.81 551.64 L174.2 551.67 L175.6 551.69 L177 551.71 L178.4 551.73 L179.79 551.74 L181.19 551.75 L182.59 551.76 L183.98 551.76 L185.38 551.77 L186.78 551.77 L188.17 551.77 L189.57 551.77 L190.97 551.76 L192.37 551.76 L193.76 551.75 L195.16 551.75 L196.56 551.74 L197.95 551.73 L199.35 551.73 L200.75 551.72 L202.14 551.71 L203.54 551.7 L204.94 551.7 L206.34 551.69 L207.73 551.68 L209.13 551.68 L210.53 551.67 L211.92 551.67 L213.32 551.67 L214.72 551.66 L216.11 551.66 L217.51 551.66 L218.91 551.66 L220.31 551.66 L221.7 551.65 L223.1 551.65 L224.5 551.65 L225.89 551.65 L227.29 551.65 L228.69 551.65 L230.08 551.65 L231.48 551.66 L232.88 551.66 L234.27 551.66 L235.67 551.66 L237.07 551.66 L238.47 551.66 L239.86 551.67 L241.26 551.67 L242.66 551.67 L244.05 551.67 L245.45 551.68 L246.85 551.68 L248.24 551.68 L249.64 551.68 L251.04 551.69 L252.44 551.69 L253.83 551.69 L255.23 551.69 L256.63 551.7 L258.02 551.7 L259.42 551.7 L260.82 551.7 L262.21 551.7 L263.61 551.7 L265.01 551.71 L266.41 551.71 L267.8 551.71 L269.2 551.71 L270.6 551.71 L271.99 551.71 L273.39 551.71 L274.79 551.71 L276.18 551.71 L277.58 551.71 L278.98 551.71 L280.38 551.71 L281.77 551.72 L283.17 551.72 L284.57 551.72 L285.96 551.71 L287.36 551.71 L288.76 551.71 L290.15 551.71 L291.55 551.71 L292.95 551.71 L294.35 551.71 L295.74 551.71 L297.14 551.71 L298.54 551.71 L299.93 551.71 L301.33 551.71 L302.73 551.71 L304.12 551.71 L305.52 551.71 L306.92 551.71 L308.32 551.7 L309.71 551.7 L311.11 551.7 L312.51 551.7 L313.9 551.7 L315.3 551.7" fill="none" stroke="#3a3a3a" stroke-width="0.85"/>
<path d="M37.3 380.4 L38.7 382.7 L40.09 384.99 L41.49 387.29 L42.89 389.58 L44.28 391.88 L45.68 394.18 L47.08 396.48 L48.48 398.79 L49.87 401.09 L51.27 403.4 L52.67 405.71 L54.06 408.02 L55.46 410.34 L56.86 412.66 L58.25 414.98 L59.65 417.31 L61.05 419.64 L62.45 421.97 L63.84 424.31 L65.24 426.66 L66.64 429.01 L68.03 431.36 L69.43 433.72 L70.83 436.09 L72.22 438.47 L73.62 440.85 L75.02 443.23 L76.42 445.63 L77.81 448.03 L79.21 450.44 L80.61 452.85 L82 455.28 L83.4 457.71 L84.8 460.15 L86.19 462.6 L87.59 465.06 L88.99 467.53 L90.39 470.01 L91.78 472.5 L93.18 475 L94.58 477.51 L95.97 480.02 L97.37 482.54 L98.77 485.06 L100.16 487.58 L101.56 490.1 L102.96 492.6 L104.36 495.1 L105.75 497.58 L107.15 500.05 L108.55 502.49 L109.94 504.92 L111.34 507.32 L112.74 509.69 L114.13 512.03 L115.53 514.33 L116.93 516.6 L118.33 518.83 L119.72 521.02 L121.12 523.16 L122.52 525.25 L123.91 527.29 L125.31 529.28 L126.71 531.21 L128.1 533.08 L129.5 534.89 L130.9 536.63 L132.29 538.3 L133.69 539.9 L135.09 541.43 L136.49 542.87 L137.88 544.24 L139.28 545.53 L140.68 546.72 L142.07 547.83 L143.47 548.85 L144.87 549.77 L146.26 550.59 L147.66 551.32 L149.06 551.93 L150.46 552.45 L151.85 552.87 L153.25 553.2 L154.65 553.45 L156.04 553.62 L157.44 553.72 L158.84 553.76 L160.23 553.75 L161.63 553.68 L163.03 553.57 L164.43 553.43 L165.82 553.26 L167.22 553.06 L168.62 552.85 L170.01 552.63 L171.41 552.4 L172.81 552.19 L174.2 551.98 L175.6 551.79 L177 551.62 L178.4 551.48 L179.79 551.37 L181.19 551.27 L182.59 551.2 L183.98 551.16 L185.38 551.13 L186.78 551.11 L188.17 551.11 L189.57 551.13 L190.97 551.16 L192.37 551.19 L193.76 551.24 L195.16 551.3 L196.56 551.35 L197.95 551.42 L199.35 551.48 L200.75 551.55 L202.14 551.61 L203.54 551.68 L204.94 551.73 L206.34 551.79 L207.73 551.84 L209.13 551.88 L210.53 551.92 L211.92 551.95 L213.32 551.98 L214.72 552.01 L216.11 552.03 L217.51 552.05 L218.91 552.07 L220.31 552.08 L221.7 552.09 L223.1 552.09 L224.5 552.1 L225.89 552.1 L227.29 552.1 L228.69 552.09 L230.08 552.09 L231.48 552.08 L232.88 552.07 L234.27 552.05 L235.67 552.04 L237.07 552.02 L238.47 552.01 L239.86 551.99 L241.26 551.97 L242.66 551.95 L244.05 551.93 L245.45 551.91 L246.85 551.89 L248.24 551.86 L249.64 551.84 L251.04 551.82 L252.44 551.8 L253.83 551.78 L255.23 551.76 L256.63 551.74 L258.02 551.72 L259.42 551.7 L260.82 551.69 L262.21 551.67 L263.61 551.66 L265.01 551.65 L266.41 551.63 L267.8 551.62 L269.2 551.61 L270.6 551.61 L271.99 551.6 L273.39 551.59 L274.79 551.59 L276.18 551.58 L277.58 551.58 L278.98 551.58 L280.38 551.57 L281.77 551.57 L283.17 551.57 L284.57 551.57 L285.96 551.57 L287.36 551.58 L288.76 551.58 L290.15 551.58 L291.55 551.58 L292.95 551.59 L294.35 551.59 L295.74 551.6 L297.14 551.6 L298.54 551.61 L299.93 551.62 L301.33 551.62 L302.73 551.63 L304.12 551.64 L305.52 551.64 L306.92 551.65 L308.32 551.66 L309.71 551.67 L311.11 551.68 L312.51 551.68 L313.9 551.69 L315.3 551.7" fill="none" stroke="#3a3a3a" stroke-width="0.85"/>
<path d="M37.3 451.9 L38.7 453.22 L40.09 454.53 L41.49 455.85 L42.89 457.16 L44.28 458.48 L45.68 459.8 L47.08 461.12 L48.48 462.44 L49.87 463.76 L51.27 465.09 L52.67 466.41 L54.06 467.74 L55.46 469.07 L56.86 470.4 L58.25 471.74 L59.65 473.08 L61.05 474.42 L62.45 475.76 L63.84 477.11 L65.24 478.46 L66.64 479.81 L68.03 481.17 L69.43 482.54 L70.83 483.9 L72.22 485.27 L73.62 486.65 L75.02 488.03 L76.42 489.41 L77.81 490.8 L79.21 492.2 L80.61 493.6 L82 495.01 L83.4 496.42 L84.8 497.84 L86.19 499.27 L87.59 500.7 L88.99 502.14 L90.39 503.58 L91.78 505.03 L93.18 506.49 L94.58 507.96 L95.97 509.43 L97.37 510.9 L98.77 512.38 L100.16 513.86 L101.56 515.33 L102.96 516.8 L104.36 518.27 L105.75 519.73 L107.15 521.18 L108.55 522.62 L109.94 524.04 L111.34 525.46 L112.74 526.85 L114.13 528.23 L115.53 529.59 L116.93 530.93 L118.33 532.25 L119.72 533.54 L121.12 534.8 L122.52 536.04 L123.91 537.24 L125.31 538.42 L126.71 539.56 L128.1 540.67 L129.5 541.74 L130.9 542.77 L132.29 543.76 L133.69 544.7 L135.09 545.61 L136.49 546.47 L137.88 547.28 L139.28 548.04 L140.68 548.75 L142.07 549.41 L143.47 550.01 L144.87 550.55 L146.26 551.04 L147.66 551.47 L149.06 551.84 L150.46 552.15 L151.85 552.4 L153.25 552.59 L154.65 552.74 L156.04 552.84 L157.44 552.9 L158.84 552.92 L160.23 552.92 L161.63 552.88 L163.03 552.81 L164.43 552.73 L165.82 552.62 L167.22 552.51 L168.62 552.38 L170.01 552.25 L171.41 552.12 L172.81 551.99 L174.2 551.86 L175.6 551.75 L177 551.65 L178.4 551.57 L179.79 551.5 L181.19 551.45 L182.59 551.41 L183.98 551.38 L185.38 551.36 L186.78 551.35 L188.17 551.35 L189.57 551.36 L190.97 551.38 L192.37 551.4 L193.76 551.43 L195.16 551.46 L196.56 551.5 L197.95 551.53 L199.35 551.57 L200.75 551.61 L202.14 551.65 L203.54 551.69 L204.94 551.72 L206.34 551.75 L207.73 551.78 L209.13 551.81 L210.53 551.83 L211.92 551.85 L213.32 551.87 L214.72 551.88 L216.11 551.9 L217.51 551.91 L218.91 551.92 L220.31 551.93 L221.7 551.93 L223.1 551.93 L224.5 551.94 L225.89 551.94 L227.29 551.94 L228.69 551.93 L230.08 551.93 L231.48 551.92 L232.88 551.92 L234.27 551.91 L235.67 551.9 L237.07 551.89 L238.47 551.88 L239.86 551.87 L241.26 551.86 L242.66 551.85 L244.05 551.84 L245.45 551.82 L246.85 551.81 L248.24 551.8 L249.64 551.78 L251.04 551.77 L252.44 551.76 L253.83 551.75 L255.23 551.73 L256.63 551.72 L258.02 551.71 L259.42 551.7 L260.82 551.69 L262.21 551.68 L263.61 551.68 L265.01 551.67 L266.41 551.66 L267.8 551.65 L269.2 551.65 L270.6 551.64 L271.99 551.64 L273.39 551.64 L274.79 551.63 L276.18 551.63 L277.58 551.63 L278.98 551.63 L280.38 551.63 L281.77 551.62 L283.17 551.62 L284.57 551.62 L285.96 551.63 L287.36 551.63 L288.76 551.63 L290.15 551.63 L291.55 551.63 L292.95 551.63 L294.35 551.64 L295.74 551.64 L297.14 551.64 L298.54 551.65 L299.93 551.65 L301.33 551.65 L302.73 551.66 L304.12 551.66 L305.52 551.67 L306.92 551.67 L308.32 551.68 L309.71 551.68 L311.11 551.69 L312.51 551.69 L313.9 551.7 L315.3 551.7" fill="none" stroke="#3a3a3a" stroke-width="0.85"/>
<path d="M92.9 439.6V458.5M90.7 439.6H95.1M90.7 458.5H95.1" stroke="#333" stroke-width="0.75" fill="none"/>
<path d="M148.5 520.3V534.4M146.3 520.3H150.7M146.3 534.4H150.7" stroke="#333" stroke-width="0.75" fill="none"/>
<path d="M92.9 528.8V538M90.7 528.8H95.1M90.7 538H95.1" stroke="#333" stroke-width="0.75" fill="none"/>
<path d="M92.9 458.5V491.1M90.7 458.5H95.1M90.7 491.1H95.1" stroke="#333" stroke-width="0.75" fill="none"/>
<path d="M92.9 497.2V515.2M90.7 497.2H95.1M90.7 515.2H95.1" stroke="#333" stroke-width="0.75" fill="none"/>
<rect x="34.75" y="345.45" width="5.1" height="5.1" fill="#fff" stroke="#111" stroke-width="0.8"/>
<rect x="90.35" y="446.55" width="5.1" height="5.1" fill="#fff" stroke="#111" stroke-width="0.8"/>
<rect x="145.95" y="524.45" width="5.1" height="5.1" fill="#fff" stroke="#111" stroke-width="0.8"/>
<rect x="173.75" y="549.15" width="5.1" height="5.1" fill="#fff" stroke="#111" stroke-width="0.8"/>
<rect x="201.55" y="549.15" width="5.1" height="5.1" fill="#fff" stroke="#111" stroke-width="0.8"/>
<rect x="257.15" y="549.15" width="5.1" height="5.1" fill="#fff" stroke="#111" stroke-width="0.8"/>
<rect x="312.75" y="549.15" width="5.1" height="5.1" fill="#fff" stroke="#111" stroke-width="0.8"/>
<circle cx="37.3" cy="403.1" r="2.85" fill="#fff" stroke="#111" stroke-width="0.85"/>
<circle cx="92.9" cy="533" r="2.85" fill="#fff" stroke="#111" stroke-width="0.85"/>
<circle cx="120.7" cy="551.7" r="2.85" fill="#fff" stroke="#111" stroke-width="0.85"/>
<circle cx="148.5" cy="551.7" r="2.85" fill="#fff" stroke="#111" stroke-width="0.85"/>
<circle cx="176.3" cy="551.7" r="2.85" fill="#fff" stroke="#111" stroke-width="0.85"/>
<circle cx="204.1" cy="551.7" r="2.85" fill="#fff" stroke="#111" stroke-width="0.85"/>
<circle cx="259.7" cy="551.7" r="2.85" fill="#fff" stroke="#111" stroke-width="0.85"/>
<circle cx="315.3" cy="551.7" r="2.85" fill="#fff" stroke="#111" stroke-width="0.85"/>
<rect x="34.55" y="377.65" width="5.5" height="5.5" fill="#000"/>
<rect x="90.15" y="471.75" width="5.5" height="5.5" fill="#000"/>
<rect x="145.75" y="548.95" width="5.5" height="5.5" fill="#000"/>
<rect x="173.55" y="548.95" width="5.5" height="5.5" fill="#000"/>
<rect x="201.35" y="548.95" width="5.5" height="5.5" fill="#000"/>
<rect x="256.95" y="548.95" width="5.5" height="5.5" fill="#000"/>
<rect x="312.55" y="548.95" width="5.5" height="5.5" fill="#000"/>
<circle cx="37.3" cy="451.9" r="3.25" fill="#000"/>
<circle cx="92.9" cy="506.2" r="3.25" fill="#000"/>
<circle cx="148.5" cy="551.7" r="3.25" fill="#000"/>
<circle cx="176.3" cy="551.7" r="3.25" fill="#000"/>
<circle cx="204.1" cy="551.7" r="3.25" fill="#000"/>
<circle cx="259.7" cy="551.7" r="3.25" fill="#000"/>
<circle cx="315.3" cy="551.7" r="3.25" fill="#000"/>
</g>
<path d="M234.8 331H260.3" stroke="#444" stroke-width="0.8"/>
<circle cx="247.4" cy="331" r="2.8" fill="#000"/>
<text x="264" y="335.1" font-size="11.7">600 mg L<tspan font-size="7" dy="-5.2">-1</tspan></text>
<path d="M234.8 346.9H260.3" stroke="#444" stroke-width="0.8"/>
<circle cx="247.4" cy="346.9" r="2.5" fill="#fff" stroke="#222" stroke-width="0.8"/>
<text x="264" y="351" font-size="11.7">750 mg L<tspan font-size="7" dy="-5.2">-1</tspan></text>
<path d="M234.8 363H260.3" stroke="#444" stroke-width="0.8"/>
<rect x="245.05" y="360.65" width="4.7" height="4.7" fill="#000"/>
<text x="264" y="367.1" font-size="11.7">900 mg L<tspan font-size="7" dy="-5.2">-1</tspan></text>
<path d="M234.8 378.8H260.3" stroke="#444" stroke-width="0.8"/>
<rect x="245.1" y="376.5" width="4.6" height="4.6" fill="#fff" stroke="#222" stroke-width="0.75"/>
<text x="264" y="382.9" font-size="11.7">1050 mg L<tspan font-size="7" dy="-5.2">-1</tspan></text>
<path d="M388.55 311.4H701.25M700.6 311.4V562.3M388.55 562.3H701.25" stroke="#000" stroke-width="1.3" fill="none"/>
<path d="M389.2 311.4V562.3" stroke="#000" stroke-width="1.3" fill="none"/>
<path d="M384 555H389.2M384 506.27H389.2M384 457.55H389.2M384 408.82H389.2M384 360.1H389.2M384 311.38H389.2M386.2 530.64H389.2M386.2 481.91H389.2M386.2 433.19H389.2M386.2 384.46H389.2M386.2 335.74H389.2M389.2 562.3V567.5M458.35 562.3V567.5M527.5 562.3V567.5M596.65 562.3V567.5M665.8 562.3V567.5M423.77 562.3V565.3M492.92 562.3V565.3M562.07 562.3V565.3M631.22 562.3V565.3M700.38 562.3V565.3" stroke="#000" stroke-width="1.1" fill="none"/>
<text x="381.4" y="558" text-anchor="end" font-size="11.2">6</text>
<text x="381.4" y="509.27" text-anchor="end" font-size="11.2">7</text>
<text x="381.4" y="460.55" text-anchor="end" font-size="11.2">8</text>
<text x="381.4" y="411.82" text-anchor="end" font-size="11.2">9</text>
<text x="381.4" y="363.1" text-anchor="end" font-size="11.2">10</text>
<text x="381.4" y="314.38" text-anchor="end" font-size="11.2">11</text>
<text x="389.2" y="578.9" text-anchor="middle" font-size="11.2">0</text>
<text x="458.35" y="578.9" text-anchor="middle" font-size="11.2">2</text>
<text x="527.5" y="578.9" text-anchor="middle" font-size="11.2">4</text>
<text x="596.65" y="578.9" text-anchor="middle" font-size="11.2">6</text>
<text x="665.8" y="578.9" text-anchor="middle" font-size="11.2">8</text>
<clipPath id="cd"><rect x="389.2" y="291.4" width="316.4" height="270.9"/></clipPath>
<g clip-path="url(#cd)">
<path d="M389.2 506.6 L390.59 506.79 L391.98 506.97 L393.37 507.16 L394.76 507.34 L396.15 507.53 L397.54 507.71 L398.93 507.9 L400.32 508.08 L401.71 508.27 L403.1 508.46 L404.49 508.64 L405.88 508.83 L407.27 509.02 L408.66 509.21 L410.05 509.4 L411.44 509.59 L412.83 509.78 L414.22 509.97 L415.61 510.16 L417 510.35 L418.39 510.55 L419.78 510.74 L421.17 510.93 L422.56 511.13 L423.95 511.33 L425.34 511.52 L426.73 511.72 L428.12 511.92 L429.51 512.12 L430.9 512.33 L432.29 512.53 L433.68 512.73 L435.07 512.94 L436.46 513.15 L437.85 513.35 L439.24 513.56 L440.63 513.77 L442.02 513.99 L443.41 514.2 L444.8 514.41 L446.19 514.63 L447.58 514.85 L448.97 515.07 L450.36 515.29 L451.75 515.51 L453.14 515.74 L454.53 515.97 L455.92 516.2 L457.31 516.43 L458.7 516.66 L460.09 516.89 L461.48 517.13 L462.87 517.37 L464.26 517.61 L465.65 517.86 L467.04 518.1 L468.43 518.36 L469.82 518.61 L471.21 518.87 L472.6 519.14 L473.99 519.41 L475.38 519.68 L476.77 519.96 L478.16 520.25 L479.55 520.54 L480.94 520.83 L482.33 521.14 L483.72 521.45 L485.11 521.77 L486.5 522.09 L487.89 522.42 L489.28 522.76 L490.67 523.11 L492.06 523.47 L493.45 523.83 L494.84 524.2 L496.23 524.59 L497.62 524.98 L499.01 525.38 L500.4 525.79 L501.79 526.21 L503.18 526.65 L504.57 527.09 L505.96 527.54 L507.35 528.01 L508.74 528.48 L510.13 528.97 L511.52 529.47 L512.91 529.99 L514.3 530.51 L515.69 531.05 L517.08 531.61 L518.47 532.17 L519.86 532.75 L521.25 533.35 L522.64 533.95 L524.03 534.58 L525.42 535.21 L526.81 535.87 L528.19 536.54 L529.58 537.22 L530.97 537.91 L532.36 538.61 L533.75 539.32 L535.14 540.03 L536.53 540.74 L537.92 541.45 L539.31 542.15 L540.7 542.85 L542.09 543.53 L543.48 544.2 L544.87 544.85 L546.26 545.48 L547.65 546.09 L549.04 546.68 L550.43 547.23 L551.82 547.76 L553.21 548.25 L554.6 548.7 L555.99 549.12 L557.38 549.49 L558.77 549.81 L560.16 550.09 L561.55 550.32 L562.94 550.49 L564.33 550.61 L565.72 550.67 L567.11 550.67 L568.5 550.6 L569.89 550.46 L571.28 550.25 L572.67 549.97 L574.06 549.61 L575.45 549.18 L576.84 548.66 L578.23 548.06 L579.62 547.37 L581.01 546.58 L582.4 545.71 L583.79 544.74 L585.18 543.67 L586.57 542.5 L587.96 541.22 L589.35 539.84 L590.74 538.34 L592.13 536.74 L593.52 535.01 L594.91 533.17 L596.3 531.21 L597.69 529.12 L599.08 526.91 L600.47 524.58 L601.86 522.13 L603.25 519.57 L604.64 516.89 L606.03 514.1 L607.42 511.2 L608.81 508.2 L610.2 505.1 L611.59 501.89 L612.98 498.59 L614.37 495.19 L615.76 491.69 L617.15 488.11 L618.54 484.44 L619.93 480.68 L621.32 476.84 L622.71 472.92 L624.1 468.92 L625.49 464.85 L626.88 460.7 L628.27 456.49 L629.66 452.2 L631.05 447.85 L632.44 443.44 L633.83 438.96 L635.22 434.43 L636.61 429.85 L638 425.21 L639.39 420.52 L640.78 415.78 L642.17 411 L643.56 406.17 L644.95 401.31 L646.34 396.4 L647.73 391.46 L649.12 386.49 L650.51 381.49 L651.9 376.46 L653.29 371.41 L654.68 366.33 L656.07 361.23 L657.46 356.12 L658.85 350.99 L660.24 345.85 L661.63 340.69 L663.02 335.53 L664.41 330.37 L665.8 325.2" fill="none" stroke="#3a3a3a" stroke-width="0.85"/>
<path d="M389.2 506.6 L390.59 507.67 L391.98 508.74 L393.37 509.81 L394.76 510.87 L396.15 511.94 L397.54 513 L398.93 514.05 L400.32 515.1 L401.71 516.15 L403.1 517.19 L404.49 518.22 L405.88 519.25 L407.27 520.26 L408.66 521.27 L410.05 522.27 L411.44 523.26 L412.83 524.23 L414.22 525.2 L415.61 526.15 L417 527.09 L418.39 528.02 L419.78 528.93 L421.17 529.83 L422.56 530.71 L423.95 531.57 L425.34 532.42 L426.73 533.25 L428.12 534.06 L429.51 534.85 L430.9 535.63 L432.29 536.38 L433.68 537.11 L435.07 537.82 L436.46 538.5 L437.85 539.17 L439.24 539.81 L440.63 540.42 L442.02 541.01 L443.41 541.57 L444.8 542.11 L446.19 542.62 L447.58 543.1 L448.97 543.55 L450.36 543.97 L451.75 544.37 L453.14 544.73 L454.53 545.06 L455.92 545.36 L457.31 545.62 L458.7 545.85 L460.09 546.05 L461.48 546.22 L462.87 546.35 L464.26 546.46 L465.65 546.53 L467.04 546.58 L468.43 546.6 L469.82 546.59 L471.21 546.56 L472.6 546.5 L473.99 546.43 L475.38 546.33 L476.77 546.21 L478.16 546.07 L479.55 545.91 L480.94 545.74 L482.33 545.55 L483.72 545.35 L485.11 545.13 L486.5 544.9 L487.89 544.66 L489.28 544.4 L490.67 544.14 L492.06 543.88 L493.45 543.6 L494.84 543.32 L496.23 543.03 L497.62 542.74 L499.01 542.45 L500.4 542.16 L501.79 541.87 L503.18 541.57 L504.57 541.28 L505.96 541 L507.35 540.71 L508.74 540.44 L510.13 540.17 L511.52 539.9 L512.91 539.65 L514.3 539.41 L515.69 539.17 L517.08 538.95 L518.47 538.75 L519.86 538.55 L521.25 538.37 L522.64 538.21 L524.03 538.07 L525.42 537.95 L526.81 537.84 L528.19 537.76 L529.58 537.7 L530.97 537.66 L532.36 537.63 L533.75 537.61 L535.14 537.61 L536.53 537.62 L537.92 537.64 L539.31 537.66 L540.7 537.68 L542.09 537.7 L543.48 537.73 L544.87 537.75 L546.26 537.76 L547.65 537.76 L549.04 537.76 L550.43 537.74 L551.82 537.71 L553.21 537.66 L554.6 537.59 L555.99 537.5 L557.38 537.39 L558.77 537.25 L560.16 537.09 L561.55 536.89 L562.94 536.66 L564.33 536.4 L565.72 536.1 L567.11 535.76 L568.5 535.38 L569.89 534.95 L571.28 534.48 L572.67 533.97 L574.06 533.4 L575.45 532.78 L576.84 532.11 L578.23 531.38 L579.62 530.59 L581.01 529.74 L582.4 528.82 L583.79 527.85 L585.18 526.8 L586.57 525.68 L587.96 524.5 L589.35 523.23 L590.74 521.89 L592.13 520.48 L593.52 518.98 L594.91 517.4 L596.3 515.73 L597.69 513.98 L599.08 512.14 L600.47 510.21 L601.86 508.2 L603.25 506.11 L604.64 503.94 L606.03 501.69 L607.42 499.37 L608.81 496.97 L610.2 494.5 L611.59 491.96 L612.98 489.35 L614.37 486.67 L615.76 483.93 L617.15 481.12 L618.54 478.25 L619.93 475.32 L621.32 472.34 L622.71 469.29 L624.1 466.19 L625.49 463.04 L626.88 459.84 L628.27 456.59 L629.66 453.29 L631.05 449.94 L632.44 446.55 L633.83 443.12 L635.22 439.64 L636.61 436.13 L638 432.58 L639.39 428.99 L640.78 425.37 L642.17 421.72 L643.56 418.04 L644.95 414.33 L646.34 410.6 L647.73 406.84 L649.12 403.05 L650.51 399.25 L651.9 395.42 L653.29 391.58 L654.68 387.72 L656.07 383.85 L657.46 379.97 L658.85 376.07 L660.24 372.17 L661.63 368.26 L663.02 364.34 L664.41 360.42 L665.8 356.5" fill="none" stroke="#3a3a3a" stroke-width="0.85"/>
<path d="M389.2 506.6 L390.59 507.7 L391.98 508.81 L393.37 509.91 L394.76 511.01 L396.15 512.1 L397.54 513.2 L398.93 514.29 L400.32 515.38 L401.71 516.46 L403.1 517.53 L404.49 518.6 L405.88 519.67 L407.27 520.72 L408.66 521.77 L410.05 522.81 L411.44 523.85 L412.83 524.87 L414.22 525.88 L415.61 526.88 L417 527.87 L418.39 528.85 L419.78 529.81 L421.17 530.76 L422.56 531.7 L423.95 532.62 L425.34 533.53 L426.73 534.43 L428.12 535.3 L429.51 536.16 L430.9 537.01 L432.29 537.83 L433.68 538.64 L435.07 539.42 L436.46 540.19 L437.85 540.94 L439.24 541.66 L440.63 542.37 L442.02 543.05 L443.41 543.71 L444.8 544.35 L446.19 544.96 L447.58 545.55 L448.97 546.11 L450.36 546.64 L451.75 547.15 L453.14 547.64 L454.53 548.09 L455.92 548.52 L457.31 548.92 L458.7 549.29 L460.09 549.63 L461.48 549.94 L462.87 550.22 L464.26 550.48 L465.65 550.7 L467.04 550.9 L468.43 551.07 L469.82 551.22 L471.21 551.34 L472.6 551.43 L473.99 551.5 L475.38 551.54 L476.77 551.56 L478.16 551.56 L479.55 551.53 L480.94 551.48 L482.33 551.41 L483.72 551.31 L485.11 551.2 L486.5 551.06 L487.89 550.9 L489.28 550.73 L490.67 550.53 L492.06 550.31 L493.45 550.08 L494.84 549.83 L496.23 549.56 L497.62 549.27 L499.01 548.97 L500.4 548.65 L501.79 548.31 L503.18 547.96 L504.57 547.59 L505.96 547.21 L507.35 546.82 L508.74 546.41 L510.13 545.99 L511.52 545.55 L512.91 545.11 L514.3 544.65 L515.69 544.18 L517.08 543.7 L518.47 543.21 L519.86 542.71 L521.25 542.2 L522.64 541.68 L524.03 541.15 L525.42 540.62 L526.81 540.07 L528.19 539.52 L529.58 538.97 L530.97 538.4 L532.36 537.83 L533.75 537.25 L535.14 536.65 L536.53 536.05 L537.92 535.44 L539.31 534.81 L540.7 534.17 L542.09 533.52 L543.48 532.85 L544.87 532.17 L546.26 531.48 L547.65 530.77 L549.04 530.04 L550.43 529.29 L551.82 528.53 L553.21 527.75 L554.6 526.95 L555.99 526.13 L557.38 525.28 L558.77 524.42 L560.16 523.54 L561.55 522.63 L562.94 521.7 L564.33 520.74 L565.72 519.76 L567.11 518.76 L568.5 517.73 L569.89 516.67 L571.28 515.59 L572.67 514.47 L574.06 513.33 L575.45 512.16 L576.84 510.96 L578.23 509.73 L579.62 508.47 L581.01 507.17 L582.4 505.85 L583.79 504.49 L585.18 503.09 L586.57 501.66 L587.96 500.2 L589.35 498.7 L590.74 497.16 L592.13 495.58 L593.52 493.97 L594.91 492.32 L596.3 490.63 L597.69 488.9 L599.08 487.13 L600.47 485.32 L601.86 483.47 L603.25 481.59 L604.64 479.67 L606.03 477.71 L607.42 475.72 L608.81 473.69 L610.2 471.63 L611.59 469.54 L612.98 467.42 L614.37 465.27 L615.76 463.09 L617.15 460.87 L618.54 458.63 L619.93 456.37 L621.32 454.07 L622.71 451.75 L624.1 449.41 L625.49 447.04 L626.88 444.64 L628.27 442.23 L629.66 439.79 L631.05 437.33 L632.44 434.85 L633.83 432.35 L635.22 429.84 L636.61 427.3 L638 424.75 L639.39 422.18 L640.78 419.6 L642.17 417 L643.56 414.39 L644.95 411.77 L646.34 409.13 L647.73 406.48 L649.12 403.82 L650.51 401.16 L651.9 398.48 L653.29 395.79 L654.68 393.1 L656.07 390.4 L657.46 387.7 L658.85 384.99 L660.24 382.28 L661.63 379.56 L663.02 376.84 L664.41 374.12 L665.8 371.4" fill="none" stroke="#3a3a3a" stroke-width="0.85"/>
<path d="M389.2 506.6 L390.59 507.12 L391.98 507.64 L393.37 508.17 L394.76 508.69 L396.15 509.21 L397.54 509.73 L398.93 510.25 L400.32 510.77 L401.71 511.28 L403.1 511.8 L404.49 512.31 L405.88 512.82 L407.27 513.33 L408.66 513.84 L410.05 514.35 L411.44 514.85 L412.83 515.35 L414.22 515.85 L415.61 516.34 L417 516.84 L418.39 517.33 L419.78 517.81 L421.17 518.29 L422.56 518.77 L423.95 519.25 L425.34 519.72 L426.73 520.18 L428.12 520.64 L429.51 521.1 L430.9 521.55 L432.29 522 L433.68 522.44 L435.07 522.88 L436.46 523.31 L437.85 523.74 L439.24 524.16 L440.63 524.58 L442.02 524.99 L443.41 525.39 L444.8 525.79 L446.19 526.18 L447.58 526.56 L448.97 526.94 L450.36 527.31 L451.75 527.67 L453.14 528.03 L454.53 528.38 L455.92 528.72 L457.31 529.05 L458.7 529.38 L460.09 529.7 L461.48 530.01 L462.87 530.31 L464.26 530.61 L465.65 530.9 L467.04 531.18 L468.43 531.46 L469.82 531.73 L471.21 531.99 L472.6 532.26 L473.99 532.51 L475.38 532.76 L476.77 533.01 L478.16 533.25 L479.55 533.49 L480.94 533.73 L482.33 533.97 L483.72 534.2 L485.11 534.43 L486.5 534.65 L487.89 534.88 L489.28 535.11 L490.67 535.33 L492.06 535.55 L493.45 535.78 L494.84 536 L496.23 536.22 L497.62 536.44 L499.01 536.67 L500.4 536.89 L501.79 537.12 L503.18 537.35 L504.57 537.58 L505.96 537.82 L507.35 538.05 L508.74 538.29 L510.13 538.54 L511.52 538.78 L512.91 539.04 L514.3 539.29 L515.69 539.55 L517.08 539.82 L518.47 540.09 L519.86 540.36 L521.25 540.65 L522.64 540.94 L524.03 541.23 L525.42 541.53 L526.81 541.84 L528.19 542.16 L529.58 542.48 L530.97 542.81 L532.36 543.14 L533.75 543.47 L535.14 543.8 L536.53 544.13 L537.92 544.45 L539.31 544.76 L540.7 545.06 L542.09 545.35 L543.48 545.62 L544.87 545.88 L546.26 546.12 L547.65 546.34 L549.04 546.54 L550.43 546.71 L551.82 546.85 L553.21 546.96 L554.6 547.05 L555.99 547.1 L557.38 547.11 L558.77 547.09 L560.16 547.03 L561.55 546.92 L562.94 546.77 L564.33 546.58 L565.72 546.34 L567.11 546.05 L568.5 545.7 L569.89 545.3 L571.28 544.85 L572.67 544.33 L574.06 543.76 L575.45 543.12 L576.84 542.42 L578.23 541.65 L579.62 540.81 L581.01 539.9 L582.4 538.91 L583.79 537.85 L585.18 536.72 L586.57 535.5 L587.96 534.2 L589.35 532.82 L590.74 531.35 L592.13 529.79 L593.52 528.15 L594.91 526.41 L596.3 524.57 L597.69 522.64 L599.08 520.62 L600.47 518.5 L601.86 516.29 L603.25 513.99 L604.64 511.6 L606.03 509.13 L607.42 506.57 L608.81 503.93 L610.2 501.21 L611.59 498.41 L612.98 495.53 L614.37 492.59 L615.76 489.57 L617.15 486.47 L618.54 483.32 L619.93 480.09 L621.32 476.8 L622.71 473.45 L624.1 470.03 L625.49 466.56 L626.88 463.04 L628.27 459.45 L629.66 455.82 L631.05 452.13 L632.44 448.4 L633.83 444.62 L635.22 440.79 L636.61 436.92 L638 433.01 L639.39 429.06 L640.78 425.07 L642.17 421.05 L643.56 417 L644.95 412.91 L646.34 408.8 L647.73 404.65 L649.12 400.48 L650.51 396.29 L651.9 392.08 L653.29 387.85 L654.68 383.6 L656.07 379.33 L657.46 375.05 L658.85 370.76 L660.24 366.46 L661.63 362.15 L663.02 357.84 L664.41 353.52 L665.8 349.2" fill="none" stroke="#3a3a3a" stroke-width="0.85"/>
<path d="M458.35 511.1V522.6M456.15 511.1H460.55M456.15 522.6H460.55" stroke="#333" stroke-width="0.75" fill="none"/>
<path d="M527.5 528.6V541.2M525.3 528.6H529.7M525.3 541.2H529.7" stroke="#333" stroke-width="0.75" fill="none"/>
<path d="M596.65 525.7V537.7M594.45 525.7H598.85M594.45 537.7H598.85" stroke="#333" stroke-width="0.75" fill="none"/>
<path d="M665.8 317.4V333.2M663.6 317.4H668M663.6 333.2H668" stroke="#333" stroke-width="0.75" fill="none"/>
<path d="M458.35 541.8V549.8M456.15 541.8H460.55M456.15 549.8H460.55" stroke="#333" stroke-width="0.75" fill="none"/>
<path d="M527.5 532.8V542.8M525.3 532.8H529.7M525.3 542.8H529.7" stroke="#333" stroke-width="0.75" fill="none"/>
<path d="M596.65 507.3V521.3M594.45 507.3H598.85M594.45 521.3H598.85" stroke="#333" stroke-width="0.75" fill="none"/>
<path d="M665.8 351.5V361.5M663.6 351.5H668M663.6 361.5H668" stroke="#333" stroke-width="0.75" fill="none"/>
<path d="M458.35 543.2V553.2M456.15 543.2H460.55M456.15 553.2H460.55" stroke="#333" stroke-width="0.75" fill="none"/>
<path d="M527.5 534.8V544.8M525.3 534.8H529.7M525.3 544.8H529.7" stroke="#333" stroke-width="0.75" fill="none"/>
<path d="M596.65 480.3V499.4M594.45 480.3H598.85M594.45 499.4H598.85" stroke="#333" stroke-width="0.75" fill="none"/>
<path d="M665.8 366.4V375.6M663.6 366.4H668M663.6 375.6H668" stroke="#333" stroke-width="0.75" fill="none"/>
<path d="M458.35 523.3V535.6M456.15 523.3H460.55M456.15 535.6H460.55" stroke="#333" stroke-width="0.75" fill="none"/>
<path d="M527.5 536V552M525.3 536H529.7M525.3 552H529.7" stroke="#333" stroke-width="0.75" fill="none"/>
<path d="M596.65 519.1V529.1M594.45 519.1H598.85M594.45 529.1H598.85" stroke="#333" stroke-width="0.75" fill="none"/>
<path d="M665.8 339.9V355.2M663.6 339.9H668M663.6 355.2H668" stroke="#333" stroke-width="0.75" fill="none"/>
<rect x="386.65" y="504.05" width="5.1" height="5.1" fill="#fff" stroke="#111" stroke-width="0.8"/>
<rect x="455.8" y="514.05" width="5.1" height="5.1" fill="#fff" stroke="#111" stroke-width="0.8"/>
<rect x="524.95" y="533.65" width="5.1" height="5.1" fill="#fff" stroke="#111" stroke-width="0.8"/>
<rect x="594.1" y="528.15" width="5.1" height="5.1" fill="#fff" stroke="#111" stroke-width="0.8"/>
<rect x="663.25" y="322.65" width="5.1" height="5.1" fill="#fff" stroke="#111" stroke-width="0.8"/>
<circle cx="389.2" cy="506.6" r="2.85" fill="#fff" stroke="#111" stroke-width="0.85"/>
<circle cx="458.35" cy="545.8" r="2.85" fill="#fff" stroke="#111" stroke-width="0.85"/>
<circle cx="527.5" cy="537.8" r="2.85" fill="#fff" stroke="#111" stroke-width="0.85"/>
<circle cx="596.65" cy="515.3" r="2.85" fill="#fff" stroke="#111" stroke-width="0.85"/>
<circle cx="665.8" cy="356.5" r="2.85" fill="#fff" stroke="#111" stroke-width="0.85"/>
<circle cx="389.2" cy="506.6" r="3.25" fill="#000"/>
<circle cx="458.35" cy="549.2" r="3.25" fill="#000"/>
<circle cx="527.5" cy="539.8" r="3.25" fill="#000"/>
<circle cx="596.65" cy="490.2" r="3.25" fill="#000"/>
<circle cx="665.8" cy="371.4" r="3.25" fill="#000"/>
<rect x="386.45" y="503.85" width="5.5" height="5.5" fill="#000"/>
<rect x="455.6" y="526.55" width="5.5" height="5.5" fill="#000"/>
<rect x="524.75" y="539.25" width="5.5" height="5.5" fill="#000"/>
<rect x="593.9" y="521.35" width="5.5" height="5.5" fill="#000"/>
<rect x="663.05" y="346.45" width="5.5" height="5.5" fill="#000"/>
</g>
<path d="M400.1 327.6H426.1" stroke="#444" stroke-width="0.8"/>
<circle cx="413.2" cy="327.6" r="2.8" fill="#000"/>
<text x="429.8" y="331.7" font-size="11.7">600 mg L<tspan font-size="7" dy="-5.2">-1</tspan></text>
<path d="M400.1 344.1H426.1" stroke="#444" stroke-width="0.8"/>
<circle cx="413.2" cy="344.1" r="2.5" fill="#fff" stroke="#222" stroke-width="0.8"/>
<text x="429.8" y="348.2" font-size="11.7">750 mg L<tspan font-size="7" dy="-5.2">-1</tspan></text>
<path d="M400.1 360.4H426.1" stroke="#444" stroke-width="0.8"/>
<rect x="410.85" y="358.05" width="4.7" height="4.7" fill="#000"/>
<text x="429.8" y="364.5" font-size="11.7">900 mg L<tspan font-size="7" dy="-5.2">-1</tspan></text>
<path d="M400.1 376.6H426.1" stroke="#444" stroke-width="0.8"/>
<rect x="410.9" y="374.3" width="4.6" height="4.6" fill="#fff" stroke="#222" stroke-width="0.75"/>
<text x="429.8" y="380.7" font-size="11.7">1050 mg L<tspan font-size="7" dy="-5.2">-1</tspan></text>
<text x="191.9" y="297.8" text-anchor="middle" font-size="11.9">Time (d)</text>
<text x="551.9" y="296.6" text-anchor="middle" font-size="11.9">Time (d)</text>
<text x="190.4" y="598.0" text-anchor="middle" font-size="11.9">Time (d)</text>
<text x="545.5" y="598.0" text-anchor="middle" font-size="11.9">Time (d)</text>
<text transform="translate(11.4 136) rotate(-90)" text-anchor="middle" font-size="11.9">TKN (mg L<tspan font-size="7" dy="-5">-1</tspan><tspan dy="5">)</tspan></text>
<text transform="translate(369.4 135.5) rotate(-90)" text-anchor="middle" font-size="11.9">N-NO<tspan font-size="6.5" dy="3.8">3</tspan><tspan font-size="6.5" dx="-3.4" dy="-9.8">-</tspan><tspan dx="1.2" dy="6">(mg L</tspan><tspan font-size="7" dy="-5">-1</tspan><tspan dy="5">)</tspan></text>
<text transform="translate(12.9 438.6) rotate(-90)" text-anchor="middle" font-size="11.9">TP (mg L<tspan font-size="7" dy="-5">-1</tspan><tspan dy="5">)</tspan></text>
<text transform="translate(365.8 437.1) rotate(-90)" text-anchor="middle" font-size="11.9">pH</text>
<text x="1.2" y="13.6" font-size="21" font-weight="bold">a</text>
<text x="357.2" y="15.7" font-size="21" font-weight="bold">b</text>
<text x="1.4" y="318.0" font-size="22.5" font-weight="bold">c</text>
<text x="356.6" y="316.6" font-size="21" font-weight="bold">d</text>
</svg>
</body></html>
